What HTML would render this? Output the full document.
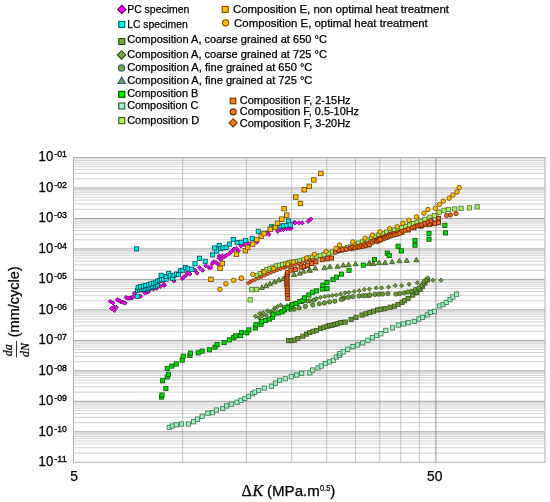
<!DOCTYPE html>
<html><head><meta charset="utf-8"><title>Fatigue crack growth rate</title>
<style>html,body{margin:0;padding:0;background:#fff}body{width:550px;height:502px;overflow:hidden}</style></head>
<body>
<svg width="550" height="502" viewBox="0 0 550 502" style="display:block">
<rect x="0" y="0" width="550" height="502" fill="#ffffff"/>
<g shape-rendering="auto"><line x1="73.50" x2="545.00" y1="178.80" y2="178.80" stroke="#c6c6c6" stroke-width="0.8"/><line x1="73.50" x2="545.00" y1="173.44" y2="173.44" stroke="#c6c6c6" stroke-width="0.8"/><line x1="73.50" x2="545.00" y1="169.63" y2="169.63" stroke="#c6c6c6" stroke-width="0.8"/><line x1="73.50" x2="545.00" y1="166.68" y2="166.68" stroke="#c6c6c6" stroke-width="0.8"/><line x1="73.50" x2="545.00" y1="164.26" y2="164.26" stroke="#c6c6c6" stroke-width="0.8"/><line x1="73.50" x2="545.00" y1="162.22" y2="162.22" stroke="#c6c6c6" stroke-width="0.8"/><line x1="73.50" x2="545.00" y1="160.45" y2="160.45" stroke="#c6c6c6" stroke-width="0.8"/><line x1="73.50" x2="545.00" y1="158.89" y2="158.89" stroke="#c6c6c6" stroke-width="0.8"/><line x1="73.50" x2="545.00" y1="209.28" y2="209.28" stroke="#c6c6c6" stroke-width="0.8"/><line x1="73.50" x2="545.00" y1="203.92" y2="203.92" stroke="#c6c6c6" stroke-width="0.8"/><line x1="73.50" x2="545.00" y1="200.11" y2="200.11" stroke="#c6c6c6" stroke-width="0.8"/><line x1="73.50" x2="545.00" y1="197.16" y2="197.16" stroke="#c6c6c6" stroke-width="0.8"/><line x1="73.50" x2="545.00" y1="194.74" y2="194.74" stroke="#c6c6c6" stroke-width="0.8"/><line x1="73.50" x2="545.00" y1="192.70" y2="192.70" stroke="#c6c6c6" stroke-width="0.8"/><line x1="73.50" x2="545.00" y1="190.93" y2="190.93" stroke="#c6c6c6" stroke-width="0.8"/><line x1="73.50" x2="545.00" y1="189.37" y2="189.37" stroke="#c6c6c6" stroke-width="0.8"/><line x1="73.50" x2="545.00" y1="239.76" y2="239.76" stroke="#c6c6c6" stroke-width="0.8"/><line x1="73.50" x2="545.00" y1="234.40" y2="234.40" stroke="#c6c6c6" stroke-width="0.8"/><line x1="73.50" x2="545.00" y1="230.59" y2="230.59" stroke="#c6c6c6" stroke-width="0.8"/><line x1="73.50" x2="545.00" y1="227.64" y2="227.64" stroke="#c6c6c6" stroke-width="0.8"/><line x1="73.50" x2="545.00" y1="225.22" y2="225.22" stroke="#c6c6c6" stroke-width="0.8"/><line x1="73.50" x2="545.00" y1="223.18" y2="223.18" stroke="#c6c6c6" stroke-width="0.8"/><line x1="73.50" x2="545.00" y1="221.41" y2="221.41" stroke="#c6c6c6" stroke-width="0.8"/><line x1="73.50" x2="545.00" y1="219.85" y2="219.85" stroke="#c6c6c6" stroke-width="0.8"/><line x1="73.50" x2="545.00" y1="270.24" y2="270.24" stroke="#c6c6c6" stroke-width="0.8"/><line x1="73.50" x2="545.00" y1="264.88" y2="264.88" stroke="#c6c6c6" stroke-width="0.8"/><line x1="73.50" x2="545.00" y1="261.07" y2="261.07" stroke="#c6c6c6" stroke-width="0.8"/><line x1="73.50" x2="545.00" y1="258.12" y2="258.12" stroke="#c6c6c6" stroke-width="0.8"/><line x1="73.50" x2="545.00" y1="255.70" y2="255.70" stroke="#c6c6c6" stroke-width="0.8"/><line x1="73.50" x2="545.00" y1="253.66" y2="253.66" stroke="#c6c6c6" stroke-width="0.8"/><line x1="73.50" x2="545.00" y1="251.89" y2="251.89" stroke="#c6c6c6" stroke-width="0.8"/><line x1="73.50" x2="545.00" y1="250.33" y2="250.33" stroke="#c6c6c6" stroke-width="0.8"/><line x1="73.50" x2="545.00" y1="300.72" y2="300.72" stroke="#c6c6c6" stroke-width="0.8"/><line x1="73.50" x2="545.00" y1="295.36" y2="295.36" stroke="#c6c6c6" stroke-width="0.8"/><line x1="73.50" x2="545.00" y1="291.55" y2="291.55" stroke="#c6c6c6" stroke-width="0.8"/><line x1="73.50" x2="545.00" y1="288.60" y2="288.60" stroke="#c6c6c6" stroke-width="0.8"/><line x1="73.50" x2="545.00" y1="286.18" y2="286.18" stroke="#c6c6c6" stroke-width="0.8"/><line x1="73.50" x2="545.00" y1="284.14" y2="284.14" stroke="#c6c6c6" stroke-width="0.8"/><line x1="73.50" x2="545.00" y1="282.37" y2="282.37" stroke="#c6c6c6" stroke-width="0.8"/><line x1="73.50" x2="545.00" y1="280.81" y2="280.81" stroke="#c6c6c6" stroke-width="0.8"/><line x1="73.50" x2="545.00" y1="331.20" y2="331.20" stroke="#c6c6c6" stroke-width="0.8"/><line x1="73.50" x2="545.00" y1="325.84" y2="325.84" stroke="#c6c6c6" stroke-width="0.8"/><line x1="73.50" x2="545.00" y1="322.03" y2="322.03" stroke="#c6c6c6" stroke-width="0.8"/><line x1="73.50" x2="545.00" y1="319.08" y2="319.08" stroke="#c6c6c6" stroke-width="0.8"/><line x1="73.50" x2="545.00" y1="316.66" y2="316.66" stroke="#c6c6c6" stroke-width="0.8"/><line x1="73.50" x2="545.00" y1="314.62" y2="314.62" stroke="#c6c6c6" stroke-width="0.8"/><line x1="73.50" x2="545.00" y1="312.85" y2="312.85" stroke="#c6c6c6" stroke-width="0.8"/><line x1="73.50" x2="545.00" y1="311.29" y2="311.29" stroke="#c6c6c6" stroke-width="0.8"/><line x1="73.50" x2="545.00" y1="361.68" y2="361.68" stroke="#c6c6c6" stroke-width="0.8"/><line x1="73.50" x2="545.00" y1="356.32" y2="356.32" stroke="#c6c6c6" stroke-width="0.8"/><line x1="73.50" x2="545.00" y1="352.51" y2="352.51" stroke="#c6c6c6" stroke-width="0.8"/><line x1="73.50" x2="545.00" y1="349.56" y2="349.56" stroke="#c6c6c6" stroke-width="0.8"/><line x1="73.50" x2="545.00" y1="347.14" y2="347.14" stroke="#c6c6c6" stroke-width="0.8"/><line x1="73.50" x2="545.00" y1="345.10" y2="345.10" stroke="#c6c6c6" stroke-width="0.8"/><line x1="73.50" x2="545.00" y1="343.33" y2="343.33" stroke="#c6c6c6" stroke-width="0.8"/><line x1="73.50" x2="545.00" y1="341.77" y2="341.77" stroke="#c6c6c6" stroke-width="0.8"/><line x1="73.50" x2="545.00" y1="392.16" y2="392.16" stroke="#c6c6c6" stroke-width="0.8"/><line x1="73.50" x2="545.00" y1="386.80" y2="386.80" stroke="#c6c6c6" stroke-width="0.8"/><line x1="73.50" x2="545.00" y1="382.99" y2="382.99" stroke="#c6c6c6" stroke-width="0.8"/><line x1="73.50" x2="545.00" y1="380.04" y2="380.04" stroke="#c6c6c6" stroke-width="0.8"/><line x1="73.50" x2="545.00" y1="377.62" y2="377.62" stroke="#c6c6c6" stroke-width="0.8"/><line x1="73.50" x2="545.00" y1="375.58" y2="375.58" stroke="#c6c6c6" stroke-width="0.8"/><line x1="73.50" x2="545.00" y1="373.81" y2="373.81" stroke="#c6c6c6" stroke-width="0.8"/><line x1="73.50" x2="545.00" y1="372.25" y2="372.25" stroke="#c6c6c6" stroke-width="0.8"/><line x1="73.50" x2="545.00" y1="422.64" y2="422.64" stroke="#c6c6c6" stroke-width="0.8"/><line x1="73.50" x2="545.00" y1="417.28" y2="417.28" stroke="#c6c6c6" stroke-width="0.8"/><line x1="73.50" x2="545.00" y1="413.47" y2="413.47" stroke="#c6c6c6" stroke-width="0.8"/><line x1="73.50" x2="545.00" y1="410.52" y2="410.52" stroke="#c6c6c6" stroke-width="0.8"/><line x1="73.50" x2="545.00" y1="408.10" y2="408.10" stroke="#c6c6c6" stroke-width="0.8"/><line x1="73.50" x2="545.00" y1="406.06" y2="406.06" stroke="#c6c6c6" stroke-width="0.8"/><line x1="73.50" x2="545.00" y1="404.29" y2="404.29" stroke="#c6c6c6" stroke-width="0.8"/><line x1="73.50" x2="545.00" y1="402.73" y2="402.73" stroke="#c6c6c6" stroke-width="0.8"/><line x1="73.50" x2="545.00" y1="453.12" y2="453.12" stroke="#c6c6c6" stroke-width="0.8"/><line x1="73.50" x2="545.00" y1="447.76" y2="447.76" stroke="#c6c6c6" stroke-width="0.8"/><line x1="73.50" x2="545.00" y1="443.95" y2="443.95" stroke="#c6c6c6" stroke-width="0.8"/><line x1="73.50" x2="545.00" y1="441.00" y2="441.00" stroke="#c6c6c6" stroke-width="0.8"/><line x1="73.50" x2="545.00" y1="438.58" y2="438.58" stroke="#c6c6c6" stroke-width="0.8"/><line x1="73.50" x2="545.00" y1="436.54" y2="436.54" stroke="#c6c6c6" stroke-width="0.8"/><line x1="73.50" x2="545.00" y1="434.77" y2="434.77" stroke="#c6c6c6" stroke-width="0.8"/><line x1="73.50" x2="545.00" y1="433.21" y2="433.21" stroke="#c6c6c6" stroke-width="0.8"/><line x1="73.50" x2="545.00" y1="187.98" y2="187.98" stroke="#a2a2a2" stroke-width="1"/><line x1="73.50" x2="545.00" y1="218.46" y2="218.46" stroke="#a2a2a2" stroke-width="1"/><line x1="73.50" x2="545.00" y1="248.94" y2="248.94" stroke="#a2a2a2" stroke-width="1"/><line x1="73.50" x2="545.00" y1="279.42" y2="279.42" stroke="#a2a2a2" stroke-width="1"/><line x1="73.50" x2="545.00" y1="309.90" y2="309.90" stroke="#a2a2a2" stroke-width="1"/><line x1="73.50" x2="545.00" y1="340.38" y2="340.38" stroke="#a2a2a2" stroke-width="1"/><line x1="73.50" x2="545.00" y1="370.86" y2="370.86" stroke="#a2a2a2" stroke-width="1"/><line x1="73.50" x2="545.00" y1="401.34" y2="401.34" stroke="#a2a2a2" stroke-width="1"/><line x1="73.50" x2="545.00" y1="431.82" y2="431.82" stroke="#a2a2a2" stroke-width="1"/><line x1="182.59" x2="182.59" y1="157.50" y2="462.30" stroke="#a0a0a0" stroke-width="0.6"/><line x1="246.41" x2="246.41" y1="157.50" y2="462.30" stroke="#a0a0a0" stroke-width="0.6"/><line x1="291.69" x2="291.69" y1="157.50" y2="462.30" stroke="#a0a0a0" stroke-width="0.6"/><line x1="326.81" x2="326.81" y1="157.50" y2="462.30" stroke="#a0a0a0" stroke-width="0.6"/><line x1="355.51" x2="355.51" y1="157.50" y2="462.30" stroke="#a0a0a0" stroke-width="0.6"/><line x1="379.77" x2="379.77" y1="157.50" y2="462.30" stroke="#a0a0a0" stroke-width="0.6"/><line x1="400.78" x2="400.78" y1="157.50" y2="462.30" stroke="#a0a0a0" stroke-width="0.6"/><line x1="419.32" x2="419.32" y1="157.50" y2="462.30" stroke="#a0a0a0" stroke-width="0.6"/><line x1="435.91" x2="435.91" y1="157.50" y2="462.30" stroke="#7c7c7c" stroke-width="0.8"/><rect x="73.50" y="157.50" width="471.50" height="304.80" fill="none" stroke="#b0b0b0" stroke-width="1"/></g>
<g><rect x="167.1" y="425.2" width="4.3" height="4.3" fill="#9cf0c2" stroke="#3c7050" stroke-width="0.8"/><rect x="170.2" y="423.9" width="4.3" height="4.3" fill="#9cf0c2" stroke="#3c7050" stroke-width="0.8"/><rect x="174.1" y="422.7" width="4.3" height="4.3" fill="#9cf0c2" stroke="#3c7050" stroke-width="0.8"/><rect x="179.3" y="421.9" width="4.3" height="4.3" fill="#9cf0c2" stroke="#3c7050" stroke-width="0.8"/><rect x="186.2" y="421.9" width="4.3" height="4.3" fill="#9cf0c2" stroke="#3c7050" stroke-width="0.8"/><rect x="191.4" y="419.6" width="4.3" height="4.3" fill="#9cf0c2" stroke="#3c7050" stroke-width="0.8"/><rect x="195.3" y="417.0" width="4.3" height="4.3" fill="#9cf0c2" stroke="#3c7050" stroke-width="0.8"/><rect x="200.0" y="414.1" width="4.3" height="4.3" fill="#9cf0c2" stroke="#3c7050" stroke-width="0.8"/><rect x="205.7" y="411.0" width="4.3" height="4.3" fill="#9cf0c2" stroke="#3c7050" stroke-width="0.8"/><rect x="210.3" y="410.5" width="4.3" height="4.3" fill="#9cf0c2" stroke="#3c7050" stroke-width="0.8"/><rect x="214.2" y="407.9" width="4.3" height="4.3" fill="#9cf0c2" stroke="#3c7050" stroke-width="0.8"/><rect x="220.7" y="406.4" width="4.3" height="4.3" fill="#9cf0c2" stroke="#3c7050" stroke-width="0.8"/><rect x="224.5" y="403.8" width="4.3" height="4.3" fill="#9cf0c2" stroke="#3c7050" stroke-width="0.8"/><rect x="229.2" y="402.0" width="4.3" height="4.3" fill="#9cf0c2" stroke="#3c7050" stroke-width="0.8"/><rect x="234.9" y="400.1" width="4.3" height="4.3" fill="#9cf0c2" stroke="#3c7050" stroke-width="0.8"/><rect x="238.8" y="398.1" width="4.3" height="4.3" fill="#9cf0c2" stroke="#3c7050" stroke-width="0.8"/><rect x="242.7" y="396.3" width="4.3" height="4.3" fill="#9cf0c2" stroke="#3c7050" stroke-width="0.8"/><rect x="246.5" y="394.2" width="4.3" height="4.3" fill="#9cf0c2" stroke="#3c7050" stroke-width="0.8"/><rect x="250.4" y="391.6" width="4.3" height="4.3" fill="#9cf0c2" stroke="#3c7050" stroke-width="0.8"/><rect x="252.8" y="390.0" width="4.3" height="4.3" fill="#9cf0c2" stroke="#3c7050" stroke-width="0.8"/><rect x="256.5" y="388.4" width="4.3" height="4.3" fill="#9cf0c2" stroke="#3c7050" stroke-width="0.8"/><rect x="262.2" y="385.9" width="4.3" height="4.3" fill="#9cf0c2" stroke="#3c7050" stroke-width="0.8"/><rect x="269.2" y="384.0" width="4.3" height="4.3" fill="#9cf0c2" stroke="#3c7050" stroke-width="0.8"/><rect x="273.3" y="381.0" width="4.3" height="4.3" fill="#9cf0c2" stroke="#3c7050" stroke-width="0.8"/><rect x="277.4" y="378.2" width="4.3" height="4.3" fill="#9cf0c2" stroke="#3c7050" stroke-width="0.8"/><rect x="283.1" y="376.6" width="4.3" height="4.3" fill="#9cf0c2" stroke="#3c7050" stroke-width="0.8"/><rect x="289.2" y="374.5" width="4.3" height="4.3" fill="#9cf0c2" stroke="#3c7050" stroke-width="0.8"/><rect x="294.6" y="372.9" width="4.3" height="4.3" fill="#9cf0c2" stroke="#3c7050" stroke-width="0.8"/><rect x="299.5" y="371.2" width="4.3" height="4.3" fill="#9cf0c2" stroke="#3c7050" stroke-width="0.8"/><rect x="307.7" y="370.7" width="4.3" height="4.3" fill="#9cf0c2" stroke="#3c7050" stroke-width="0.8"/><rect x="310.5" y="367.9" width="4.3" height="4.3" fill="#9cf0c2" stroke="#3c7050" stroke-width="0.8"/><rect x="315.9" y="365.8" width="4.3" height="4.3" fill="#9cf0c2" stroke="#3c7050" stroke-width="0.8"/><rect x="319.1" y="363.9" width="4.3" height="4.3" fill="#9cf0c2" stroke="#3c7050" stroke-width="0.8"/><rect x="323.2" y="361.4" width="4.3" height="4.3" fill="#9cf0c2" stroke="#3c7050" stroke-width="0.8"/><rect x="327.3" y="359.8" width="4.3" height="4.3" fill="#9cf0c2" stroke="#3c7050" stroke-width="0.8"/><rect x="331.1" y="358.1" width="4.3" height="4.3" fill="#9cf0c2" stroke="#3c7050" stroke-width="0.8"/><rect x="334.2" y="354.9" width="4.3" height="4.3" fill="#9cf0c2" stroke="#3c7050" stroke-width="0.8"/><rect x="337.1" y="353.2" width="4.3" height="4.3" fill="#9cf0c2" stroke="#3c7050" stroke-width="0.8"/><rect x="337.9" y="351.5" width="4.3" height="4.3" fill="#9cf0c2" stroke="#3c7050" stroke-width="0.8"/><rect x="341.0" y="349.7" width="4.3" height="4.3" fill="#9cf0c2" stroke="#3c7050" stroke-width="0.8"/><rect x="345.6" y="347.1" width="4.3" height="4.3" fill="#9cf0c2" stroke="#3c7050" stroke-width="0.8"/><rect x="350.8" y="344.5" width="4.3" height="4.3" fill="#9cf0c2" stroke="#3c7050" stroke-width="0.8"/><rect x="355.4" y="342.7" width="4.3" height="4.3" fill="#9cf0c2" stroke="#3c7050" stroke-width="0.8"/><rect x="360.6" y="340.7" width="4.3" height="4.3" fill="#9cf0c2" stroke="#3c7050" stroke-width="0.8"/><rect x="365.8" y="338.1" width="4.3" height="4.3" fill="#9cf0c2" stroke="#3c7050" stroke-width="0.8"/><rect x="370.2" y="335.5" width="4.3" height="4.3" fill="#9cf0c2" stroke="#3c7050" stroke-width="0.8"/><rect x="374.6" y="333.4" width="4.3" height="4.3" fill="#9cf0c2" stroke="#3c7050" stroke-width="0.8"/><rect x="378.7" y="331.6" width="4.3" height="4.3" fill="#9cf0c2" stroke="#3c7050" stroke-width="0.8"/><rect x="383.7" y="328.2" width="4.3" height="4.3" fill="#9cf0c2" stroke="#3c7050" stroke-width="0.8"/><rect x="390.4" y="325.7" width="4.3" height="4.3" fill="#9cf0c2" stroke="#3c7050" stroke-width="0.8"/><rect x="396.2" y="322.9" width="4.3" height="4.3" fill="#9cf0c2" stroke="#3c7050" stroke-width="0.8"/><rect x="401.1" y="321.8" width="4.3" height="4.3" fill="#9cf0c2" stroke="#3c7050" stroke-width="0.8"/><rect x="406.0" y="320.5" width="4.3" height="4.3" fill="#9cf0c2" stroke="#3c7050" stroke-width="0.8"/><rect x="412.2" y="319.3" width="4.3" height="4.3" fill="#9cf0c2" stroke="#3c7050" stroke-width="0.8"/><rect x="416.8" y="316.9" width="4.3" height="4.3" fill="#9cf0c2" stroke="#3c7050" stroke-width="0.8"/><rect x="420.4" y="315.2" width="4.3" height="4.3" fill="#9cf0c2" stroke="#3c7050" stroke-width="0.8"/><rect x="425.3" y="312.8" width="4.3" height="4.3" fill="#9cf0c2" stroke="#3c7050" stroke-width="0.8"/><rect x="428.2" y="310.3" width="4.3" height="4.3" fill="#9cf0c2" stroke="#3c7050" stroke-width="0.8"/><rect x="432.3" y="309.2" width="4.3" height="4.3" fill="#9cf0c2" stroke="#3c7050" stroke-width="0.8"/><rect x="437.6" y="303.8" width="4.3" height="4.3" fill="#9cf0c2" stroke="#3c7050" stroke-width="0.8"/><rect x="440.9" y="302.5" width="4.3" height="4.3" fill="#9cf0c2" stroke="#3c7050" stroke-width="0.8"/><rect x="444.1" y="300.2" width="4.3" height="4.3" fill="#9cf0c2" stroke="#3c7050" stroke-width="0.8"/><rect x="447.9" y="297.5" width="4.3" height="4.3" fill="#9cf0c2" stroke="#3c7050" stroke-width="0.8"/><rect x="450.7" y="294.8" width="4.3" height="4.3" fill="#9cf0c2" stroke="#3c7050" stroke-width="0.8"/><rect x="454.4" y="292.0" width="4.3" height="4.3" fill="#9cf0c2" stroke="#3c7050" stroke-width="0.8"/></g>
<g><rect x="286.4" y="338.5" width="4.2" height="4.2" fill="#6a9a38" stroke="#34501c" stroke-width="0.8"/><rect x="289.2" y="338.5" width="4.2" height="4.2" fill="#6a9a38" stroke="#34501c" stroke-width="0.8"/><rect x="292.2" y="338.0" width="4.2" height="4.2" fill="#6a9a38" stroke="#34501c" stroke-width="0.8"/><rect x="295.8" y="336.4" width="4.2" height="4.2" fill="#6a9a38" stroke="#34501c" stroke-width="0.8"/><rect x="300.7" y="334.1" width="4.2" height="4.2" fill="#6a9a38" stroke="#34501c" stroke-width="0.8"/><rect x="304.4" y="332.0" width="4.2" height="4.2" fill="#6a9a38" stroke="#34501c" stroke-width="0.8"/><rect x="307.7" y="330.4" width="4.2" height="4.2" fill="#6a9a38" stroke="#34501c" stroke-width="0.8"/><rect x="311.0" y="329.2" width="4.2" height="4.2" fill="#6a9a38" stroke="#34501c" stroke-width="0.8"/><rect x="314.3" y="328.4" width="4.2" height="4.2" fill="#6a9a38" stroke="#34501c" stroke-width="0.8"/><rect x="318.5" y="326.2" width="4.2" height="4.2" fill="#6a9a38" stroke="#34501c" stroke-width="0.8"/><rect x="321.6" y="325.2" width="4.2" height="4.2" fill="#6a9a38" stroke="#34501c" stroke-width="0.8"/><rect x="324.9" y="324.2" width="4.2" height="4.2" fill="#6a9a38" stroke="#34501c" stroke-width="0.8"/><rect x="327.5" y="323.6" width="4.2" height="4.2" fill="#6a9a38" stroke="#34501c" stroke-width="0.8"/><rect x="330.1" y="323.1" width="4.2" height="4.2" fill="#6a9a38" stroke="#34501c" stroke-width="0.8"/><rect x="332.7" y="322.4" width="4.2" height="4.2" fill="#6a9a38" stroke="#34501c" stroke-width="0.8"/><rect x="335.3" y="321.6" width="4.2" height="4.2" fill="#6a9a38" stroke="#34501c" stroke-width="0.8"/><rect x="338.7" y="320.5" width="4.2" height="4.2" fill="#6a9a38" stroke="#34501c" stroke-width="0.8"/><rect x="343.1" y="320.0" width="4.2" height="4.2" fill="#6a9a38" stroke="#34501c" stroke-width="0.8"/><rect x="349.0" y="317.4" width="4.2" height="4.2" fill="#6a9a38" stroke="#34501c" stroke-width="0.8"/><rect x="353.9" y="315.3" width="4.2" height="4.2" fill="#6a9a38" stroke="#34501c" stroke-width="0.8"/><rect x="359.9" y="313.0" width="4.2" height="4.2" fill="#6a9a38" stroke="#34501c" stroke-width="0.8"/><rect x="363.8" y="311.7" width="4.2" height="4.2" fill="#6a9a38" stroke="#34501c" stroke-width="0.8"/><rect x="367.7" y="310.4" width="4.2" height="4.2" fill="#6a9a38" stroke="#34501c" stroke-width="0.8"/><rect x="371.5" y="309.1" width="4.2" height="4.2" fill="#6a9a38" stroke="#34501c" stroke-width="0.8"/><rect x="375.4" y="307.8" width="4.2" height="4.2" fill="#6a9a38" stroke="#34501c" stroke-width="0.8"/><rect x="378.7" y="307.1" width="4.2" height="4.2" fill="#6a9a38" stroke="#34501c" stroke-width="0.8"/><rect x="382.8" y="306.6" width="4.2" height="4.2" fill="#6a9a38" stroke="#34501c" stroke-width="0.8"/><rect x="388.0" y="305.1" width="4.2" height="4.2" fill="#6a9a38" stroke="#34501c" stroke-width="0.8"/><rect x="392.3" y="304.1" width="4.2" height="4.2" fill="#6a9a38" stroke="#34501c" stroke-width="0.8"/><rect x="395.9" y="302.5" width="4.2" height="4.2" fill="#6a9a38" stroke="#34501c" stroke-width="0.8"/><rect x="400.0" y="300.2" width="4.2" height="4.2" fill="#6a9a38" stroke="#34501c" stroke-width="0.8"/><rect x="402.4" y="298.6" width="4.2" height="4.2" fill="#6a9a38" stroke="#34501c" stroke-width="0.8"/><rect x="406.0" y="296.4" width="4.2" height="4.2" fill="#6a9a38" stroke="#34501c" stroke-width="0.8"/><rect x="410.6" y="292.8" width="4.2" height="4.2" fill="#6a9a38" stroke="#34501c" stroke-width="0.8"/><rect x="414.7" y="290.4" width="4.2" height="4.2" fill="#6a9a38" stroke="#34501c" stroke-width="0.8"/><rect x="418.0" y="287.4" width="4.2" height="4.2" fill="#6a9a38" stroke="#34501c" stroke-width="0.8"/><rect x="420.4" y="284.2" width="4.2" height="4.2" fill="#6a9a38" stroke="#34501c" stroke-width="0.8"/><rect x="422.9" y="280.9" width="4.2" height="4.2" fill="#6a9a38" stroke="#34501c" stroke-width="0.8"/><rect x="425.4" y="277.6" width="4.2" height="4.2" fill="#6a9a38" stroke="#34501c" stroke-width="0.8"/></g>
<g><circle cx="290.3" cy="309.5" r="2.15" fill="#6a9a38" stroke="#34501c" stroke-width="0.8"/><circle cx="294.1" cy="309.2" r="2.15" fill="#6a9a38" stroke="#34501c" stroke-width="0.8"/><circle cx="299.2" cy="307.9" r="2.15" fill="#6a9a38" stroke="#34501c" stroke-width="0.8"/><circle cx="305.3" cy="306.4" r="2.15" fill="#6a9a38" stroke="#34501c" stroke-width="0.8"/><circle cx="309.5" cy="300.8" r="2.15" fill="#6a9a38" stroke="#34501c" stroke-width="0.8"/><circle cx="314.0" cy="300.1" r="2.15" fill="#6a9a38" stroke="#34501c" stroke-width="0.8"/><circle cx="343.9" cy="297.9" r="2.15" fill="#6a9a38" stroke="#34501c" stroke-width="0.8"/><circle cx="348.4" cy="297.3" r="2.15" fill="#6a9a38" stroke="#34501c" stroke-width="0.8"/><circle cx="352.8" cy="296.6" r="2.15" fill="#6a9a38" stroke="#34501c" stroke-width="0.8"/><circle cx="359.2" cy="296.0" r="2.15" fill="#6a9a38" stroke="#34501c" stroke-width="0.8"/><circle cx="363.0" cy="295.7" r="2.15" fill="#6a9a38" stroke="#34501c" stroke-width="0.8"/><circle cx="366.2" cy="295.6" r="2.15" fill="#6a9a38" stroke="#34501c" stroke-width="0.8"/><circle cx="369.4" cy="295.4" r="2.15" fill="#6a9a38" stroke="#34501c" stroke-width="0.8"/><circle cx="342.6" cy="298.8" r="2.15" fill="#6a9a38" stroke="#34501c" stroke-width="0.8"/><circle cx="369.8" cy="294.9" r="2.15" fill="#6a9a38" stroke="#34501c" stroke-width="0.8"/><circle cx="374.9" cy="294.4" r="2.15" fill="#6a9a38" stroke="#34501c" stroke-width="0.8"/><circle cx="378.8" cy="294.2" r="2.15" fill="#6a9a38" stroke="#34501c" stroke-width="0.8"/><circle cx="312.8" cy="305.0" r="2.15" fill="#6a9a38" stroke="#34501c" stroke-width="0.8"/><circle cx="319.3" cy="303.8" r="2.15" fill="#6a9a38" stroke="#34501c" stroke-width="0.8"/><circle cx="324.5" cy="303.0" r="2.15" fill="#6a9a38" stroke="#34501c" stroke-width="0.8"/><circle cx="329.6" cy="301.9" r="2.15" fill="#6a9a38" stroke="#34501c" stroke-width="0.8"/><circle cx="334.8" cy="301.2" r="2.15" fill="#6a9a38" stroke="#34501c" stroke-width="0.8"/><circle cx="341.3" cy="299.4" r="2.15" fill="#6a9a38" stroke="#34501c" stroke-width="0.8"/><circle cx="382.5" cy="294.1" r="2.15" fill="#6a9a38" stroke="#34501c" stroke-width="0.8"/><circle cx="387.9" cy="293.6" r="2.15" fill="#6a9a38" stroke="#34501c" stroke-width="0.8"/><circle cx="395.9" cy="294.1" r="2.15" fill="#6a9a38" stroke="#34501c" stroke-width="0.8"/><circle cx="399.6" cy="293.6" r="2.15" fill="#6a9a38" stroke="#34501c" stroke-width="0.8"/><circle cx="404.2" cy="292.8" r="2.15" fill="#6a9a38" stroke="#34501c" stroke-width="0.8"/><circle cx="407.8" cy="292.0" r="2.15" fill="#6a9a38" stroke="#34501c" stroke-width="0.8"/><circle cx="411.4" cy="291.5" r="2.15" fill="#6a9a38" stroke="#34501c" stroke-width="0.8"/><circle cx="415.2" cy="289.5" r="2.15" fill="#6a9a38" stroke="#34501c" stroke-width="0.8"/><circle cx="418.9" cy="287.9" r="2.15" fill="#6a9a38" stroke="#34501c" stroke-width="0.8"/><circle cx="421.7" cy="285.5" r="2.15" fill="#6a9a38" stroke="#34501c" stroke-width="0.8"/><circle cx="423.9" cy="283.0" r="2.15" fill="#6a9a38" stroke="#34501c" stroke-width="0.8"/><circle cx="425.8" cy="280.5" r="2.15" fill="#6a9a38" stroke="#34501c" stroke-width="0.8"/><circle cx="412.7" cy="295.3" r="2.15" fill="#6a9a38" stroke="#34501c" stroke-width="0.8"/><circle cx="416.8" cy="292.8" r="2.15" fill="#6a9a38" stroke="#34501c" stroke-width="0.8"/></g>
<g><path d="M253.4 316.3L255.5 314.2L257.6 316.3L255.5 318.4Z" fill="#6a9a38" stroke="#34501c" stroke-width="0.8"/><path d="M257.0 317.8L259.1 315.7L261.2 317.8L259.1 319.9Z" fill="#6a9a38" stroke="#34501c" stroke-width="0.8"/><path d="M257.6 313.4L259.7 311.3L261.8 313.4L259.7 315.5Z" fill="#6a9a38" stroke="#34501c" stroke-width="0.8"/><path d="M260.2 315.9L262.3 313.8L264.4 315.9L262.3 318.0Z" fill="#6a9a38" stroke="#34501c" stroke-width="0.8"/><path d="M260.8 312.7L262.9 310.6L265.0 312.7L262.9 314.8Z" fill="#6a9a38" stroke="#34501c" stroke-width="0.8"/><path d="M264.0 315.3L266.1 313.2L268.2 315.3L266.1 317.4Z" fill="#6a9a38" stroke="#34501c" stroke-width="0.8"/><path d="M265.3 310.8L267.4 308.7L269.5 310.8L267.4 312.9Z" fill="#6a9a38" stroke="#34501c" stroke-width="0.8"/><path d="M267.8 312.1L269.9 310.0L272.0 312.1L269.9 314.2Z" fill="#6a9a38" stroke="#34501c" stroke-width="0.8"/><path d="M271.0 310.2L273.1 308.1L275.2 310.2L273.1 312.3Z" fill="#6a9a38" stroke="#34501c" stroke-width="0.8"/><path d="M272.9 307.9L275.0 305.8L277.1 307.9L275.0 310.0Z" fill="#6a9a38" stroke="#34501c" stroke-width="0.8"/><path d="M275.4 306.6L277.5 304.5L279.6 306.6L277.5 308.7Z" fill="#6a9a38" stroke="#34501c" stroke-width="0.8"/><path d="M278.6 305.1L280.7 303.0L282.8 305.1L280.7 307.2Z" fill="#6a9a38" stroke="#34501c" stroke-width="0.8"/><path d="M281.8 307.0L283.9 304.9L286.0 307.0L283.9 309.1Z" fill="#6a9a38" stroke="#34501c" stroke-width="0.8"/><path d="M285.0 305.7L287.1 303.6L289.2 305.7L287.1 307.8Z" fill="#6a9a38" stroke="#34501c" stroke-width="0.8"/><path d="M288.8 304.8L290.9 302.7L293.0 304.8L290.9 306.9Z" fill="#6a9a38" stroke="#34501c" stroke-width="0.8"/><path d="M292.6 303.8L294.7 301.7L296.8 303.8L294.7 305.9Z" fill="#6a9a38" stroke="#34501c" stroke-width="0.8"/><path d="M296.4 302.8L298.5 300.7L300.6 302.8L298.5 304.9Z" fill="#6a9a38" stroke="#34501c" stroke-width="0.8"/><path d="M300.9 302.0L303.0 299.9L305.1 302.0L303.0 304.1Z" fill="#6a9a38" stroke="#34501c" stroke-width="0.8"/><path d="M305.4 301.3L307.5 299.2L309.6 301.3L307.5 303.4Z" fill="#6a9a38" stroke="#34501c" stroke-width="0.8"/><path d="M314.4 298.5L316.5 296.4L318.6 298.5L316.5 300.6Z" fill="#6a9a38" stroke="#34501c" stroke-width="0.8"/><path d="M318.3 297.5L320.4 295.4L322.5 297.5L320.4 299.6Z" fill="#6a9a38" stroke="#34501c" stroke-width="0.8"/><path d="M322.7 296.6L324.8 294.5L326.9 296.6L324.8 298.7Z" fill="#6a9a38" stroke="#34501c" stroke-width="0.8"/><path d="M326.5 296.0L328.6 293.9L330.7 296.0L328.6 298.1Z" fill="#6a9a38" stroke="#34501c" stroke-width="0.8"/><path d="M330.4 295.4L332.5 293.3L334.6 295.4L332.5 297.5Z" fill="#6a9a38" stroke="#34501c" stroke-width="0.8"/><path d="M334.2 295.0L336.3 292.9L338.4 295.0L336.3 297.1Z" fill="#6a9a38" stroke="#34501c" stroke-width="0.8"/><path d="M338.6 294.1L340.7 292.0L342.8 294.1L340.7 296.2Z" fill="#6a9a38" stroke="#34501c" stroke-width="0.8"/><path d="M343.1 292.8L345.2 290.7L347.3 292.8L345.2 294.9Z" fill="#6a9a38" stroke="#34501c" stroke-width="0.8"/><path d="M346.9 292.4L349.0 290.3L351.1 292.4L349.0 294.5Z" fill="#6a9a38" stroke="#34501c" stroke-width="0.8"/><path d="M352.0 291.5L354.1 289.4L356.2 291.5L354.1 293.6Z" fill="#6a9a38" stroke="#34501c" stroke-width="0.8"/><path d="M357.1 290.7L359.2 288.6L361.3 290.7L359.2 292.8Z" fill="#6a9a38" stroke="#34501c" stroke-width="0.8"/><path d="M362.2 289.4L364.3 287.3L366.4 289.4L364.3 291.5Z" fill="#6a9a38" stroke="#34501c" stroke-width="0.8"/><path d="M367.3 289.0L369.4 286.9L371.5 289.0L369.4 291.1Z" fill="#6a9a38" stroke="#34501c" stroke-width="0.8"/><path d="M374.1 287.9L376.2 285.8L378.3 287.9L376.2 290.0Z" fill="#6a9a38" stroke="#34501c" stroke-width="0.8"/><path d="M379.5 287.9L381.6 285.8L383.7 287.9L381.6 290.0Z" fill="#6a9a38" stroke="#34501c" stroke-width="0.8"/><path d="M386.4 287.1L388.5 285.0L390.6 287.1L388.5 289.2Z" fill="#6a9a38" stroke="#34501c" stroke-width="0.8"/><path d="M393.1 285.5L395.2 283.4L397.3 285.5L395.2 287.6Z" fill="#6a9a38" stroke="#34501c" stroke-width="0.8"/><path d="M399.5 285.5L401.6 283.4L403.7 285.5L401.6 287.6Z" fill="#6a9a38" stroke="#34501c" stroke-width="0.8"/><path d="M407.0 284.3L409.1 282.2L411.2 284.3L409.1 286.4Z" fill="#6a9a38" stroke="#34501c" stroke-width="0.8"/><path d="M415.2 282.7L417.3 280.6L419.4 282.7L417.3 284.8Z" fill="#6a9a38" stroke="#34501c" stroke-width="0.8"/><path d="M421.8 281.4L423.9 279.3L426.0 281.4L423.9 283.5Z" fill="#6a9a38" stroke="#34501c" stroke-width="0.8"/><path d="M425.8 277.8L427.9 275.7L430.0 277.8L427.9 279.9Z" fill="#6a9a38" stroke="#34501c" stroke-width="0.8"/><path d="M430.8 280.2L432.9 278.1L435.0 280.2L432.9 282.3Z" fill="#6a9a38" stroke="#34501c" stroke-width="0.8"/><path d="M438.9 280.2L441.0 278.1L443.1 280.2L441.0 282.3Z" fill="#6a9a38" stroke="#34501c" stroke-width="0.8"/></g>
<g><rect x="159.4" y="395.0" width="4.2" height="4.2" fill="#00dc00" stroke="#005800" stroke-width="0.8"/><rect x="159.9" y="392.9" width="4.2" height="4.2" fill="#00dc00" stroke="#005800" stroke-width="0.8"/><rect x="163.8" y="386.5" width="4.2" height="4.2" fill="#00dc00" stroke="#005800" stroke-width="0.8"/><rect x="160.4" y="378.7" width="4.2" height="4.2" fill="#00dc00" stroke="#005800" stroke-width="0.8"/><rect x="165.1" y="374.8" width="4.2" height="4.2" fill="#00dc00" stroke="#005800" stroke-width="0.8"/><rect x="166.4" y="372.2" width="4.2" height="4.2" fill="#00dc00" stroke="#005800" stroke-width="0.8"/><rect x="165.1" y="366.3" width="4.2" height="4.2" fill="#00dc00" stroke="#005800" stroke-width="0.8"/><rect x="169.7" y="364.0" width="4.2" height="4.2" fill="#00dc00" stroke="#005800" stroke-width="0.8"/><rect x="174.1" y="361.9" width="4.2" height="4.2" fill="#00dc00" stroke="#005800" stroke-width="0.8"/><rect x="180.1" y="358.0" width="4.2" height="4.2" fill="#00dc00" stroke="#005800" stroke-width="0.8"/><rect x="181.1" y="354.1" width="4.2" height="4.2" fill="#00dc00" stroke="#005800" stroke-width="0.8"/><rect x="187.8" y="353.4" width="4.2" height="4.2" fill="#00dc00" stroke="#005800" stroke-width="0.8"/><rect x="188.4" y="351.0" width="4.2" height="4.2" fill="#00dc00" stroke="#005800" stroke-width="0.8"/><rect x="196.1" y="350.8" width="4.2" height="4.2" fill="#00dc00" stroke="#005800" stroke-width="0.8"/><rect x="200.0" y="349.0" width="4.2" height="4.2" fill="#00dc00" stroke="#005800" stroke-width="0.8"/><rect x="207.3" y="347.7" width="4.2" height="4.2" fill="#00dc00" stroke="#005800" stroke-width="0.8"/><rect x="212.9" y="345.1" width="4.2" height="4.2" fill="#00dc00" stroke="#005800" stroke-width="0.8"/><rect x="215.0" y="342.5" width="4.2" height="4.2" fill="#00dc00" stroke="#005800" stroke-width="0.8"/><rect x="222.0" y="340.4" width="4.2" height="4.2" fill="#00dc00" stroke="#005800" stroke-width="0.8"/><rect x="227.2" y="337.8" width="4.2" height="4.2" fill="#00dc00" stroke="#005800" stroke-width="0.8"/><rect x="231.6" y="335.5" width="4.2" height="4.2" fill="#00dc00" stroke="#005800" stroke-width="0.8"/><rect x="233.4" y="333.8" width="4.2" height="4.2" fill="#00dc00" stroke="#005800" stroke-width="0.8"/><rect x="238.5" y="333.5" width="4.2" height="4.2" fill="#00dc00" stroke="#005800" stroke-width="0.8"/><rect x="239.4" y="330.4" width="4.2" height="4.2" fill="#00dc00" stroke="#005800" stroke-width="0.8"/><rect x="244.9" y="330.7" width="4.2" height="4.2" fill="#00dc00" stroke="#005800" stroke-width="0.8"/><rect x="246.8" y="327.8" width="4.2" height="4.2" fill="#00dc00" stroke="#005800" stroke-width="0.8"/><rect x="253.2" y="325.9" width="4.2" height="4.2" fill="#00dc00" stroke="#005800" stroke-width="0.8"/><rect x="253.8" y="322.7" width="4.2" height="4.2" fill="#00dc00" stroke="#005800" stroke-width="0.8"/><rect x="258.9" y="322.1" width="4.2" height="4.2" fill="#00dc00" stroke="#005800" stroke-width="0.8"/><rect x="259.3" y="319.5" width="4.2" height="4.2" fill="#00dc00" stroke="#005800" stroke-width="0.8"/><rect x="263.4" y="318.3" width="4.2" height="4.2" fill="#00dc00" stroke="#005800" stroke-width="0.8"/><rect x="267.2" y="317.0" width="4.2" height="4.2" fill="#00dc00" stroke="#005800" stroke-width="0.8"/><rect x="270.4" y="315.1" width="4.2" height="4.2" fill="#00dc00" stroke="#005800" stroke-width="0.8"/><rect x="271.0" y="312.2" width="4.2" height="4.2" fill="#00dc00" stroke="#005800" stroke-width="0.8"/><rect x="276.1" y="310.9" width="4.2" height="4.2" fill="#00dc00" stroke="#005800" stroke-width="0.8"/><rect x="279.9" y="309.6" width="4.2" height="4.2" fill="#00dc00" stroke="#005800" stroke-width="0.8"/><rect x="282.4" y="307.8" width="4.2" height="4.2" fill="#00dc00" stroke="#005800" stroke-width="0.8"/><rect x="285.6" y="305.8" width="4.2" height="4.2" fill="#00dc00" stroke="#005800" stroke-width="0.8"/><rect x="289.4" y="304.0" width="4.2" height="4.2" fill="#00dc00" stroke="#005800" stroke-width="0.8"/><rect x="290.1" y="302.4" width="4.2" height="4.2" fill="#00dc00" stroke="#005800" stroke-width="0.8"/><rect x="293.9" y="301.5" width="4.2" height="4.2" fill="#00dc00" stroke="#005800" stroke-width="0.8"/><rect x="297.7" y="299.4" width="4.2" height="4.2" fill="#00dc00" stroke="#005800" stroke-width="0.8"/><rect x="300.9" y="298.5" width="4.2" height="4.2" fill="#00dc00" stroke="#005800" stroke-width="0.8"/><rect x="302.4" y="295.8" width="4.2" height="4.2" fill="#00dc00" stroke="#005800" stroke-width="0.8"/><rect x="306.8" y="292.9" width="4.2" height="4.2" fill="#00dc00" stroke="#005800" stroke-width="0.8"/><rect x="310.6" y="290.1" width="4.2" height="4.2" fill="#00dc00" stroke="#005800" stroke-width="0.8"/><rect x="314.4" y="288.8" width="4.2" height="4.2" fill="#00dc00" stroke="#005800" stroke-width="0.8"/><rect x="320.2" y="286.9" width="4.2" height="4.2" fill="#00dc00" stroke="#005800" stroke-width="0.8"/><rect x="324.9" y="286.5" width="4.2" height="4.2" fill="#00dc00" stroke="#005800" stroke-width="0.8"/><rect x="320.8" y="283.1" width="4.2" height="4.2" fill="#00dc00" stroke="#005800" stroke-width="0.8"/><rect x="324.9" y="280.5" width="4.2" height="4.2" fill="#00dc00" stroke="#005800" stroke-width="0.8"/><rect x="331.0" y="277.4" width="4.2" height="4.2" fill="#00dc00" stroke="#005800" stroke-width="0.8"/><rect x="334.2" y="275.1" width="4.2" height="4.2" fill="#00dc00" stroke="#005800" stroke-width="0.8"/><rect x="339.3" y="272.0" width="4.2" height="4.2" fill="#00dc00" stroke="#005800" stroke-width="0.8"/><rect x="346.9" y="268.2" width="4.2" height="4.2" fill="#00dc00" stroke="#005800" stroke-width="0.8"/><rect x="361.2" y="263.0" width="4.2" height="4.2" fill="#00dc00" stroke="#005800" stroke-width="0.8"/><rect x="372.4" y="257.4" width="4.2" height="4.2" fill="#00dc00" stroke="#005800" stroke-width="0.8"/><rect x="385.2" y="251.1" width="4.2" height="4.2" fill="#00dc00" stroke="#005800" stroke-width="0.8"/><rect x="387.1" y="253.4" width="4.2" height="4.2" fill="#00dc00" stroke="#005800" stroke-width="0.8"/><rect x="396.0" y="244.1" width="4.2" height="4.2" fill="#00dc00" stroke="#005800" stroke-width="0.8"/><rect x="399.2" y="248.8" width="4.2" height="4.2" fill="#00dc00" stroke="#005800" stroke-width="0.8"/><rect x="412.9" y="238.4" width="4.2" height="4.2" fill="#00dc00" stroke="#005800" stroke-width="0.8"/><rect x="412.9" y="243.1" width="4.2" height="4.2" fill="#00dc00" stroke="#005800" stroke-width="0.8"/><rect x="426.9" y="231.4" width="4.2" height="4.2" fill="#00dc00" stroke="#005800" stroke-width="0.8"/><rect x="426.9" y="237.1" width="4.2" height="4.2" fill="#00dc00" stroke="#005800" stroke-width="0.8"/><rect x="442.8" y="223.2" width="4.2" height="4.2" fill="#00dc00" stroke="#005800" stroke-width="0.8"/><rect x="443.4" y="230.8" width="4.2" height="4.2" fill="#00dc00" stroke="#005800" stroke-width="0.8"/></g>
<g><path d="M259.3 289.4L261.9 284.9L264.5 289.4Z" fill="#6a9a38" stroke="#34501c" stroke-width="0.8"/><path d="M263.5 287.6L266.1 283.1L268.7 287.6Z" fill="#6a9a38" stroke="#34501c" stroke-width="0.8"/><path d="M267.3 285.6L269.9 281.1L272.5 285.6Z" fill="#6a9a38" stroke="#34501c" stroke-width="0.8"/><path d="M271.8 283.8L274.4 279.3L277.0 283.8Z" fill="#6a9a38" stroke="#34501c" stroke-width="0.8"/><path d="M276.2 281.8L278.8 277.3L281.4 281.8Z" fill="#6a9a38" stroke="#34501c" stroke-width="0.8"/><path d="M280.7 280.5L283.3 276.0L285.9 280.5Z" fill="#6a9a38" stroke="#34501c" stroke-width="0.8"/><path d="M291.5 276.4L294.1 271.9L296.7 276.4Z" fill="#6a9a38" stroke="#34501c" stroke-width="0.8"/><path d="M297.0 275.2L299.6 270.7L302.2 275.2Z" fill="#6a9a38" stroke="#34501c" stroke-width="0.8"/><path d="M301.0 273.2L303.6 268.8L306.2 273.2Z" fill="#6a9a38" stroke="#34501c" stroke-width="0.8"/><path d="M306.8 272.0L309.4 267.5L312.0 272.0Z" fill="#6a9a38" stroke="#34501c" stroke-width="0.8"/><path d="M307.3 272.2L309.9 267.7L312.5 272.2Z" fill="#6a9a38" stroke="#34501c" stroke-width="0.8"/><path d="M312.7 270.0L315.3 265.5L317.9 270.0Z" fill="#6a9a38" stroke="#34501c" stroke-width="0.8"/><path d="M321.8 269.6L324.4 265.1L327.0 269.6Z" fill="#6a9a38" stroke="#34501c" stroke-width="0.8"/><path d="M327.3 268.6L329.9 264.1L332.5 268.6Z" fill="#6a9a38" stroke="#34501c" stroke-width="0.8"/><path d="M334.9 268.3L337.5 263.8L340.2 268.3Z" fill="#6a9a38" stroke="#34501c" stroke-width="0.8"/><path d="M340.7 267.1L343.3 262.6L345.9 267.1Z" fill="#6a9a38" stroke="#34501c" stroke-width="0.8"/><path d="M346.0 266.4L348.6 261.9L351.2 266.4Z" fill="#6a9a38" stroke="#34501c" stroke-width="0.8"/><path d="M353.0 265.8L355.6 261.3L358.2 265.8Z" fill="#6a9a38" stroke="#34501c" stroke-width="0.8"/><path d="M366.8 264.9L369.4 260.4L372.0 264.9Z" fill="#6a9a38" stroke="#34501c" stroke-width="0.8"/><path d="M366.8 265.4L369.5 260.9L372.1 265.4Z" fill="#6a9a38" stroke="#34501c" stroke-width="0.8"/><path d="M370.7 265.6L373.3 261.1L375.9 265.6Z" fill="#6a9a38" stroke="#34501c" stroke-width="0.8"/><path d="M376.4 264.6L379.0 260.1L381.6 264.6Z" fill="#6a9a38" stroke="#34501c" stroke-width="0.8"/><path d="M382.5 264.6L385.1 260.1L387.7 264.6Z" fill="#6a9a38" stroke="#34501c" stroke-width="0.8"/><path d="M389.5 263.7L392.1 259.2L394.7 263.7Z" fill="#6a9a38" stroke="#34501c" stroke-width="0.8"/><path d="M396.8 262.8L399.4 258.3L402.0 262.8Z" fill="#6a9a38" stroke="#34501c" stroke-width="0.8"/><path d="M404.1 262.4L406.7 257.9L409.4 262.4Z" fill="#6a9a38" stroke="#34501c" stroke-width="0.8"/><path d="M413.7 261.8L416.3 257.3L418.9 261.8Z" fill="#6a9a38" stroke="#34501c" stroke-width="0.8"/></g>
<g><path d="M108.1 301.4L110.2 299.3L112.3 301.4L110.2 303.5Z" fill="#ff00ff" stroke="#600060" stroke-width="0.8"/><path d="M111.0 303.0L113.1 300.9L115.2 303.0L113.1 305.1Z" fill="#ff00ff" stroke="#600060" stroke-width="0.8"/><path d="M109.4 308.4L111.5 306.3L113.6 308.4L111.5 310.5Z" fill="#ff00ff" stroke="#600060" stroke-width="0.8"/><path d="M111.9 307.1L114.0 305.0L116.1 307.1L114.0 309.2Z" fill="#ff00ff" stroke="#600060" stroke-width="0.8"/><path d="M114.2 307.3L116.3 305.2L118.4 307.3L116.3 309.4Z" fill="#ff00ff" stroke="#600060" stroke-width="0.8"/><path d="M112.3 310.3L114.4 308.2L116.5 310.3L114.4 312.4Z" fill="#ff00ff" stroke="#600060" stroke-width="0.8"/><path d="M115.1 299.7L117.2 297.6L119.3 299.7L117.2 301.8Z" fill="#ff00ff" stroke="#600060" stroke-width="0.8"/><path d="M117.0 300.5L119.1 298.4L121.2 300.5L119.1 302.6Z" fill="#ff00ff" stroke="#600060" stroke-width="0.8"/><path d="M118.3 301.4L120.4 299.3L122.5 301.4L120.4 303.5Z" fill="#ff00ff" stroke="#600060" stroke-width="0.8"/><path d="M119.8 302.0L121.9 299.9L124.0 302.0L121.9 304.1Z" fill="#ff00ff" stroke="#600060" stroke-width="0.8"/><path d="M121.4 302.6L123.5 300.5L125.6 302.6L123.5 304.7Z" fill="#ff00ff" stroke="#600060" stroke-width="0.8"/><path d="M123.1 303.0L125.2 300.9L127.3 303.0L125.2 305.1Z" fill="#ff00ff" stroke="#600060" stroke-width="0.8"/><path d="M124.0 297.5L126.1 295.4L128.2 297.5L126.1 299.6Z" fill="#ff00ff" stroke="#600060" stroke-width="0.8"/><path d="M125.9 298.2L128.0 296.1L130.1 298.2L128.0 300.3Z" fill="#ff00ff" stroke="#600060" stroke-width="0.8"/><path d="M127.8 298.2L129.9 296.1L132.0 298.2L129.9 300.3Z" fill="#ff00ff" stroke="#600060" stroke-width="0.8"/><path d="M129.7 297.9L131.8 295.8L133.9 297.9L131.8 300.0Z" fill="#ff00ff" stroke="#600060" stroke-width="0.8"/><path d="M130.7 297.2L132.8 295.1L134.9 297.2L132.8 299.3Z" fill="#ff00ff" stroke="#600060" stroke-width="0.8"/><path d="M132.3 293.3L134.4 291.2L136.5 293.3L134.4 295.4Z" fill="#ff00ff" stroke="#600060" stroke-width="0.8"/><path d="M138.6 296.3L140.7 294.2L142.8 296.3L140.7 298.4Z" fill="#ff00ff" stroke="#600060" stroke-width="0.8"/><path d="M142.4 292.8L144.5 290.7L146.6 292.8L144.5 294.9Z" fill="#ff00ff" stroke="#600060" stroke-width="0.8"/><path d="M144.4 292.5L146.5 290.4L148.6 292.5L146.5 294.6Z" fill="#ff00ff" stroke="#600060" stroke-width="0.8"/><path d="M146.3 291.8L148.4 289.7L150.5 291.8L148.4 293.9Z" fill="#ff00ff" stroke="#600060" stroke-width="0.8"/><path d="M151.4 289.0L153.5 286.9L155.6 289.0L153.5 291.1Z" fill="#ff00ff" stroke="#600060" stroke-width="0.8"/><path d="M154.5 288.3L156.6 286.2L158.7 288.3L156.6 290.4Z" fill="#ff00ff" stroke="#600060" stroke-width="0.8"/><path d="M158.4 286.5L160.5 284.4L162.6 286.5L160.5 288.6Z" fill="#ff00ff" stroke="#600060" stroke-width="0.8"/><path d="M162.2 285.5L164.3 283.4L166.4 285.5L164.3 287.6Z" fill="#ff00ff" stroke="#600060" stroke-width="0.8"/><path d="M161.7 284.2L163.8 282.1L165.9 284.2L163.8 286.3Z" fill="#ff00ff" stroke="#600060" stroke-width="0.8"/><path d="M171.9 281.0L174.0 278.9L176.1 281.0L174.0 283.1Z" fill="#ff00ff" stroke="#600060" stroke-width="0.8"/><path d="M180.2 278.5L182.3 276.4L184.4 278.5L182.3 280.6Z" fill="#ff00ff" stroke="#600060" stroke-width="0.8"/><path d="M181.4 277.2L183.5 275.1L185.6 277.2L183.5 279.3Z" fill="#ff00ff" stroke="#600060" stroke-width="0.8"/><path d="M184.0 275.3L186.1 273.2L188.2 275.3L186.1 277.4Z" fill="#ff00ff" stroke="#600060" stroke-width="0.8"/><path d="M185.3 272.7L187.4 270.6L189.5 272.7L187.4 274.8Z" fill="#ff00ff" stroke="#600060" stroke-width="0.8"/><path d="M187.8 274.0L189.9 271.9L192.0 274.0L189.9 276.1Z" fill="#ff00ff" stroke="#600060" stroke-width="0.8"/><path d="M192.9 270.2L195.0 268.1L197.1 270.2L195.0 272.3Z" fill="#ff00ff" stroke="#600060" stroke-width="0.8"/><path d="M194.8 273.1L196.9 271.0L199.0 273.1L196.9 275.2Z" fill="#ff00ff" stroke="#600060" stroke-width="0.8"/><path d="M197.4 267.6L199.5 265.5L201.6 267.6L199.5 269.7Z" fill="#ff00ff" stroke="#600060" stroke-width="0.8"/><path d="M200.5 270.2L202.6 268.1L204.7 270.2L202.6 272.3Z" fill="#ff00ff" stroke="#600060" stroke-width="0.8"/><path d="M203.7 265.7L205.8 263.6L207.9 265.7L205.8 267.8Z" fill="#ff00ff" stroke="#600060" stroke-width="0.8"/><path d="M206.9 267.6L209.0 265.5L211.1 267.6L209.0 269.7Z" fill="#ff00ff" stroke="#600060" stroke-width="0.8"/><path d="M208.8 267.6L210.9 265.5L213.0 267.6L210.9 269.7Z" fill="#ff00ff" stroke="#600060" stroke-width="0.8"/><path d="M210.1 263.8L212.2 261.7L214.3 263.8L212.2 265.9Z" fill="#ff00ff" stroke="#600060" stroke-width="0.8"/><path d="M211.4 261.9L213.5 259.8L215.6 261.9L213.5 264.0Z" fill="#ff00ff" stroke="#600060" stroke-width="0.8"/><path d="M213.9 262.5L216.0 260.4L218.1 262.5L216.0 264.6Z" fill="#ff00ff" stroke="#600060" stroke-width="0.8"/><path d="M215.8 263.8L217.9 261.7L220.0 263.8L217.9 265.9Z" fill="#ff00ff" stroke="#600060" stroke-width="0.8"/><path d="M217.1 258.3L219.2 256.2L221.3 258.3L219.2 260.4Z" fill="#ff00ff" stroke="#600060" stroke-width="0.8"/><path d="M219.0 259.4L221.1 257.3L223.2 259.4L221.1 261.5Z" fill="#ff00ff" stroke="#600060" stroke-width="0.8"/><path d="M217.1 256.2L219.2 254.1L221.3 256.2L219.2 258.3Z" fill="#ff00ff" stroke="#600060" stroke-width="0.8"/><path d="M220.3 255.9L222.4 253.8L224.5 255.9L222.4 258.0Z" fill="#ff00ff" stroke="#600060" stroke-width="0.8"/><path d="M222.2 256.8L224.3 254.7L226.4 256.8L224.3 258.9Z" fill="#ff00ff" stroke="#600060" stroke-width="0.8"/><path d="M224.1 255.5L226.2 253.4L228.3 255.5L226.2 257.6Z" fill="#ff00ff" stroke="#600060" stroke-width="0.8"/><path d="M227.3 253.6L229.4 251.5L231.5 253.6L229.4 255.7Z" fill="#ff00ff" stroke="#600060" stroke-width="0.8"/><path d="M229.3 251.6L231.4 249.5L233.5 251.6L231.4 253.7Z" fill="#ff00ff" stroke="#600060" stroke-width="0.8"/><path d="M231.8 249.1L233.9 247.0L236.0 249.1L233.9 251.2Z" fill="#ff00ff" stroke="#600060" stroke-width="0.8"/><path d="M234.4 248.5L236.5 246.4L238.6 248.5L236.5 250.6Z" fill="#ff00ff" stroke="#600060" stroke-width="0.8"/><path d="M236.3 251.0L238.4 248.9L240.5 251.0L238.4 253.1Z" fill="#ff00ff" stroke="#600060" stroke-width="0.8"/><path d="M238.8 245.9L240.9 243.8L243.0 245.9L240.9 248.0Z" fill="#ff00ff" stroke="#600060" stroke-width="0.8"/><path d="M242.0 244.6L244.1 242.5L246.2 244.6L244.1 246.7Z" fill="#ff00ff" stroke="#600060" stroke-width="0.8"/><path d="M246.4 243.4L248.5 241.3L250.6 243.4L248.5 245.5Z" fill="#ff00ff" stroke="#600060" stroke-width="0.8"/><path d="M254.7 242.1L256.8 240.0L258.9 242.1L256.8 244.2Z" fill="#ff00ff" stroke="#600060" stroke-width="0.8"/><path d="M264.9 232.5L267.0 230.4L269.1 232.5L267.0 234.6Z" fill="#ff00ff" stroke="#600060" stroke-width="0.8"/><path d="M266.8 234.5L268.9 232.4L271.0 234.5L268.9 236.6Z" fill="#ff00ff" stroke="#600060" stroke-width="0.8"/><path d="M275.7 231.3L277.8 229.2L279.9 231.3L277.8 233.4Z" fill="#ff00ff" stroke="#600060" stroke-width="0.8"/><path d="M278.9 229.6L281.0 227.5L283.1 229.6L281.0 231.7Z" fill="#ff00ff" stroke="#600060" stroke-width="0.8"/><path d="M281.4 229.4L283.5 227.3L285.6 229.4L283.5 231.5Z" fill="#ff00ff" stroke="#600060" stroke-width="0.8"/><path d="M284.6 228.7L286.7 226.6L288.8 228.7L286.7 230.8Z" fill="#ff00ff" stroke="#600060" stroke-width="0.8"/><path d="M287.2 228.7L289.3 226.6L291.4 228.7L289.3 230.8Z" fill="#ff00ff" stroke="#600060" stroke-width="0.8"/><path d="M289.1 228.3L291.2 226.2L293.3 228.3L291.2 230.4Z" fill="#ff00ff" stroke="#600060" stroke-width="0.8"/><path d="M292.3 222.4L294.4 220.3L296.5 222.4L294.4 224.5Z" fill="#ff00ff" stroke="#600060" stroke-width="0.8"/><path d="M293.1 222.9L295.2 220.8L297.3 222.9L295.2 225.0Z" fill="#ff00ff" stroke="#600060" stroke-width="0.8"/><path d="M297.0 222.9L299.1 220.8L301.2 222.9L299.1 225.0Z" fill="#ff00ff" stroke="#600060" stroke-width="0.8"/><path d="M300.1 222.9L302.2 220.8L304.3 222.9L302.2 225.0Z" fill="#ff00ff" stroke="#600060" stroke-width="0.8"/><path d="M306.1 221.3L308.2 219.2L310.3 221.3L308.2 223.4Z" fill="#ff00ff" stroke="#600060" stroke-width="0.8"/><path d="M308.7 219.0L310.8 216.9L312.9 219.0L310.8 221.1Z" fill="#ff00ff" stroke="#600060" stroke-width="0.8"/></g>
<g><rect x="135.2" y="294.2" width="4.2" height="4.2" fill="#00eaea" stroke="#005058" stroke-width="0.8"/><rect x="135.4" y="288.2" width="4.2" height="4.2" fill="#00eaea" stroke="#005058" stroke-width="0.8"/><rect x="137.4" y="287.8" width="4.2" height="4.2" fill="#00eaea" stroke="#005058" stroke-width="0.8"/><rect x="139.3" y="287.4" width="4.2" height="4.2" fill="#00eaea" stroke="#005058" stroke-width="0.8"/><rect x="141.2" y="287.2" width="4.2" height="4.2" fill="#00eaea" stroke="#005058" stroke-width="0.8"/><rect x="143.1" y="287.2" width="4.2" height="4.2" fill="#00eaea" stroke="#005058" stroke-width="0.8"/><rect x="145.0" y="286.9" width="4.2" height="4.2" fill="#00eaea" stroke="#005058" stroke-width="0.8"/><rect x="146.9" y="286.5" width="4.2" height="4.2" fill="#00eaea" stroke="#005058" stroke-width="0.8"/><rect x="148.8" y="285.3" width="4.2" height="4.2" fill="#00eaea" stroke="#005058" stroke-width="0.8"/><rect x="150.7" y="284.6" width="4.2" height="4.2" fill="#00eaea" stroke="#005058" stroke-width="0.8"/><rect x="153.3" y="284.0" width="4.2" height="4.2" fill="#00eaea" stroke="#005058" stroke-width="0.8"/><rect x="155.2" y="282.7" width="4.2" height="4.2" fill="#00eaea" stroke="#005058" stroke-width="0.8"/><rect x="136.1" y="285.3" width="4.2" height="4.2" fill="#00eaea" stroke="#005058" stroke-width="0.8"/><rect x="138.6" y="284.6" width="4.2" height="4.2" fill="#00eaea" stroke="#005058" stroke-width="0.8"/><rect x="141.2" y="284.0" width="4.2" height="4.2" fill="#00eaea" stroke="#005058" stroke-width="0.8"/><rect x="143.7" y="283.4" width="4.2" height="4.2" fill="#00eaea" stroke="#005058" stroke-width="0.8"/><rect x="146.3" y="282.7" width="4.2" height="4.2" fill="#00eaea" stroke="#005058" stroke-width="0.8"/><rect x="148.8" y="281.8" width="4.2" height="4.2" fill="#00eaea" stroke="#005058" stroke-width="0.8"/><rect x="151.4" y="281.1" width="4.2" height="4.2" fill="#00eaea" stroke="#005058" stroke-width="0.8"/><rect x="153.9" y="280.2" width="4.2" height="4.2" fill="#00eaea" stroke="#005058" stroke-width="0.8"/><rect x="155.8" y="278.9" width="4.2" height="4.2" fill="#00eaea" stroke="#005058" stroke-width="0.8"/><rect x="157.7" y="278.3" width="4.2" height="4.2" fill="#00eaea" stroke="#005058" stroke-width="0.8"/><rect x="159.6" y="277.6" width="4.2" height="4.2" fill="#00eaea" stroke="#005058" stroke-width="0.8"/><rect x="161.5" y="277.0" width="4.2" height="4.2" fill="#00eaea" stroke="#005058" stroke-width="0.8"/><rect x="164.1" y="277.0" width="4.2" height="4.2" fill="#00eaea" stroke="#005058" stroke-width="0.8"/><rect x="159.0" y="273.2" width="4.2" height="4.2" fill="#00eaea" stroke="#005058" stroke-width="0.8"/><rect x="164.1" y="274.4" width="4.2" height="4.2" fill="#00eaea" stroke="#005058" stroke-width="0.8"/><rect x="166.6" y="271.3" width="4.2" height="4.2" fill="#00eaea" stroke="#005058" stroke-width="0.8"/><rect x="134.5" y="246.8" width="4.2" height="4.2" fill="#00eaea" stroke="#005058" stroke-width="0.8"/><rect x="168.1" y="273.8" width="4.2" height="4.2" fill="#00eaea" stroke="#005058" stroke-width="0.8"/><rect x="170.6" y="276.4" width="4.2" height="4.2" fill="#00eaea" stroke="#005058" stroke-width="0.8"/><rect x="171.9" y="273.2" width="4.2" height="4.2" fill="#00eaea" stroke="#005058" stroke-width="0.8"/><rect x="174.4" y="271.9" width="4.2" height="4.2" fill="#00eaea" stroke="#005058" stroke-width="0.8"/><rect x="176.4" y="272.5" width="4.2" height="4.2" fill="#00eaea" stroke="#005058" stroke-width="0.8"/><rect x="178.3" y="268.7" width="4.2" height="4.2" fill="#00eaea" stroke="#005058" stroke-width="0.8"/><rect x="180.8" y="268.1" width="4.2" height="4.2" fill="#00eaea" stroke="#005058" stroke-width="0.8"/><rect x="183.4" y="265.5" width="4.2" height="4.2" fill="#00eaea" stroke="#005058" stroke-width="0.8"/><rect x="185.9" y="266.8" width="4.2" height="4.2" fill="#00eaea" stroke="#005058" stroke-width="0.8"/><rect x="189.7" y="267.2" width="4.2" height="4.2" fill="#00eaea" stroke="#005058" stroke-width="0.8"/><rect x="192.9" y="261.7" width="4.2" height="4.2" fill="#00eaea" stroke="#005058" stroke-width="0.8"/><rect x="197.4" y="256.2" width="4.2" height="4.2" fill="#00eaea" stroke="#005058" stroke-width="0.8"/><rect x="203.1" y="259.2" width="4.2" height="4.2" fill="#00eaea" stroke="#005058" stroke-width="0.8"/><rect x="210.5" y="252.8" width="4.2" height="4.2" fill="#00eaea" stroke="#005058" stroke-width="0.8"/><rect x="214.5" y="249.0" width="4.2" height="4.2" fill="#00eaea" stroke="#005058" stroke-width="0.8"/><rect x="212.6" y="245.8" width="4.2" height="4.2" fill="#00eaea" stroke="#005058" stroke-width="0.8"/><rect x="217.1" y="243.3" width="4.2" height="4.2" fill="#00eaea" stroke="#005058" stroke-width="0.8"/><rect x="218.4" y="246.4" width="4.2" height="4.2" fill="#00eaea" stroke="#005058" stroke-width="0.8"/><rect x="220.9" y="245.8" width="4.2" height="4.2" fill="#00eaea" stroke="#005058" stroke-width="0.8"/><rect x="224.1" y="245.2" width="4.2" height="4.2" fill="#00eaea" stroke="#005058" stroke-width="0.8"/><rect x="227.3" y="242.0" width="4.2" height="4.2" fill="#00eaea" stroke="#005058" stroke-width="0.8"/><rect x="231.2" y="237.4" width="4.2" height="4.2" fill="#00eaea" stroke="#005058" stroke-width="0.8"/><rect x="235.0" y="240.6" width="4.2" height="4.2" fill="#00eaea" stroke="#005058" stroke-width="0.8"/><rect x="239.1" y="240.2" width="4.2" height="4.2" fill="#00eaea" stroke="#005058" stroke-width="0.8"/><rect x="243.6" y="238.5" width="4.2" height="4.2" fill="#00eaea" stroke="#005058" stroke-width="0.8"/><rect x="250.0" y="236.2" width="4.2" height="4.2" fill="#00eaea" stroke="#005058" stroke-width="0.8"/><rect x="256.2" y="229.2" width="4.2" height="4.2" fill="#00eaea" stroke="#005058" stroke-width="0.8"/><rect x="269.4" y="224.7" width="4.2" height="4.2" fill="#00eaea" stroke="#005058" stroke-width="0.8"/><rect x="271.9" y="225.4" width="4.2" height="4.2" fill="#00eaea" stroke="#005058" stroke-width="0.8"/><rect x="276.4" y="224.7" width="4.2" height="4.2" fill="#00eaea" stroke="#005058" stroke-width="0.8"/><rect x="278.9" y="224.1" width="4.2" height="4.2" fill="#00eaea" stroke="#005058" stroke-width="0.8"/><rect x="281.4" y="223.7" width="4.2" height="4.2" fill="#00eaea" stroke="#005058" stroke-width="0.8"/><rect x="284.6" y="223.2" width="4.2" height="4.2" fill="#00eaea" stroke="#005058" stroke-width="0.8"/><rect x="286.5" y="219.0" width="4.2" height="4.2" fill="#00eaea" stroke="#005058" stroke-width="0.8"/><rect x="288.1" y="222.8" width="4.2" height="4.2" fill="#00eaea" stroke="#005058" stroke-width="0.8"/></g>
<g><rect x="208.7" y="277.1" width="4.5" height="4.5" fill="#ffc000" stroke="#704000" stroke-width="0.8"/><rect x="217.8" y="266.0" width="4.5" height="4.5" fill="#ffc000" stroke="#704000" stroke-width="0.8"/><rect x="220.1" y="261.3" width="4.5" height="4.5" fill="#ffc000" stroke="#704000" stroke-width="0.8"/><rect x="234.2" y="251.9" width="4.5" height="4.5" fill="#ffc000" stroke="#704000" stroke-width="0.8"/><rect x="243.1" y="248.4" width="4.5" height="4.5" fill="#ffc000" stroke="#704000" stroke-width="0.8"/><rect x="245.4" y="245.2" width="4.5" height="4.5" fill="#ffc000" stroke="#704000" stroke-width="0.8"/><rect x="250.5" y="241.8" width="4.5" height="4.5" fill="#ffc000" stroke="#704000" stroke-width="0.8"/><rect x="254.6" y="237.3" width="4.5" height="4.5" fill="#ffc000" stroke="#704000" stroke-width="0.8"/><rect x="259.0" y="234.1" width="4.5" height="4.5" fill="#ffc000" stroke="#704000" stroke-width="0.8"/><rect x="261.8" y="231.3" width="4.5" height="4.5" fill="#ffc000" stroke="#704000" stroke-width="0.8"/><rect x="267.9" y="227.1" width="4.5" height="4.5" fill="#ffc000" stroke="#704000" stroke-width="0.8"/><rect x="273.0" y="225.2" width="4.5" height="4.5" fill="#ffc000" stroke="#704000" stroke-width="0.8"/><rect x="275.3" y="221.0" width="4.5" height="4.5" fill="#ffc000" stroke="#704000" stroke-width="0.8"/><rect x="279.6" y="216.9" width="4.5" height="4.5" fill="#ffc000" stroke="#704000" stroke-width="0.8"/><rect x="284.5" y="212.9" width="4.5" height="4.5" fill="#ffc000" stroke="#704000" stroke-width="0.8"/><rect x="281.9" y="206.4" width="4.5" height="4.5" fill="#ffc000" stroke="#704000" stroke-width="0.8"/><rect x="298.2" y="201.2" width="4.5" height="4.5" fill="#ffc000" stroke="#704000" stroke-width="0.8"/><rect x="293.5" y="194.8" width="4.5" height="4.5" fill="#ffc000" stroke="#704000" stroke-width="0.8"/><rect x="302.0" y="187.5" width="4.5" height="4.5" fill="#ffc000" stroke="#704000" stroke-width="0.8"/><rect x="307.0" y="184.1" width="4.5" height="4.5" fill="#ffc000" stroke="#704000" stroke-width="0.8"/><rect x="311.6" y="177.7" width="4.5" height="4.5" fill="#ffc000" stroke="#704000" stroke-width="0.8"/><rect x="318.6" y="171.2" width="4.5" height="4.5" fill="#ffc000" stroke="#704000" stroke-width="0.8"/></g>
<g><rect x="248.0" y="297.7" width="4.3" height="4.3" fill="#a8ee6a" stroke="#4e7026" stroke-width="0.8"/><rect x="249.6" y="287.6" width="4.3" height="4.3" fill="#a8ee6a" stroke="#4e7026" stroke-width="0.8"/><rect x="254.4" y="287.3" width="4.3" height="4.3" fill="#a8ee6a" stroke="#4e7026" stroke-width="0.8"/><rect x="255.0" y="273.3" width="4.3" height="4.3" fill="#a8ee6a" stroke="#4e7026" stroke-width="0.8"/><rect x="258.2" y="271.4" width="4.3" height="4.3" fill="#a8ee6a" stroke="#4e7026" stroke-width="0.8"/><rect x="261.4" y="269.5" width="4.3" height="4.3" fill="#a8ee6a" stroke="#4e7026" stroke-width="0.8"/><rect x="264.6" y="267.6" width="4.3" height="4.3" fill="#a8ee6a" stroke="#4e7026" stroke-width="0.8"/><rect x="267.8" y="266.3" width="4.3" height="4.3" fill="#a8ee6a" stroke="#4e7026" stroke-width="0.8"/><rect x="270.9" y="265.0" width="4.3" height="4.3" fill="#a8ee6a" stroke="#4e7026" stroke-width="0.8"/><rect x="274.1" y="263.8" width="4.3" height="4.3" fill="#a8ee6a" stroke="#4e7026" stroke-width="0.8"/><rect x="277.3" y="263.1" width="4.3" height="4.3" fill="#a8ee6a" stroke="#4e7026" stroke-width="0.8"/><rect x="280.5" y="262.5" width="4.3" height="4.3" fill="#a8ee6a" stroke="#4e7026" stroke-width="0.8"/><rect x="283.7" y="261.6" width="4.3" height="4.3" fill="#a8ee6a" stroke="#4e7026" stroke-width="0.8"/><rect x="286.9" y="260.6" width="4.3" height="4.3" fill="#a8ee6a" stroke="#4e7026" stroke-width="0.8"/><rect x="290.0" y="259.9" width="4.3" height="4.3" fill="#a8ee6a" stroke="#4e7026" stroke-width="0.8"/><rect x="293.9" y="259.6" width="4.3" height="4.3" fill="#a8ee6a" stroke="#4e7026" stroke-width="0.8"/><rect x="297.7" y="258.7" width="4.3" height="4.3" fill="#a8ee6a" stroke="#4e7026" stroke-width="0.8"/><rect x="301.5" y="257.8" width="4.3" height="4.3" fill="#a8ee6a" stroke="#4e7026" stroke-width="0.8"/><rect x="304.7" y="256.8" width="4.3" height="4.3" fill="#a8ee6a" stroke="#4e7026" stroke-width="0.8"/><rect x="307.4" y="255.7" width="4.3" height="4.3" fill="#a8ee6a" stroke="#4e7026" stroke-width="0.8"/><rect x="310.6" y="255.0" width="4.3" height="4.3" fill="#a8ee6a" stroke="#4e7026" stroke-width="0.8"/><rect x="314.4" y="254.4" width="4.3" height="4.3" fill="#a8ee6a" stroke="#4e7026" stroke-width="0.8"/><rect x="318.2" y="253.4" width="4.3" height="4.3" fill="#a8ee6a" stroke="#4e7026" stroke-width="0.8"/><rect x="322.0" y="252.5" width="4.3" height="4.3" fill="#a8ee6a" stroke="#4e7026" stroke-width="0.8"/><rect x="326.5" y="251.2" width="4.3" height="4.3" fill="#a8ee6a" stroke="#4e7026" stroke-width="0.8"/><rect x="330.3" y="249.9" width="4.3" height="4.3" fill="#a8ee6a" stroke="#4e7026" stroke-width="0.8"/><rect x="334.1" y="248.7" width="4.3" height="4.3" fill="#a8ee6a" stroke="#4e7026" stroke-width="0.8"/><rect x="337.9" y="247.8" width="4.3" height="4.3" fill="#a8ee6a" stroke="#4e7026" stroke-width="0.8"/><rect x="341.8" y="246.8" width="4.3" height="4.3" fill="#a8ee6a" stroke="#4e7026" stroke-width="0.8"/><rect x="345.6" y="245.5" width="4.3" height="4.3" fill="#a8ee6a" stroke="#4e7026" stroke-width="0.8"/><rect x="348.8" y="244.2" width="4.3" height="4.3" fill="#a8ee6a" stroke="#4e7026" stroke-width="0.8"/><rect x="352.6" y="242.9" width="4.3" height="4.3" fill="#a8ee6a" stroke="#4e7026" stroke-width="0.8"/><rect x="356.4" y="241.0" width="4.3" height="4.3" fill="#a8ee6a" stroke="#4e7026" stroke-width="0.8"/><rect x="360.2" y="239.8" width="4.3" height="4.3" fill="#a8ee6a" stroke="#4e7026" stroke-width="0.8"/><rect x="364.0" y="238.9" width="4.3" height="4.3" fill="#a8ee6a" stroke="#4e7026" stroke-width="0.8"/><rect x="365.4" y="237.7" width="4.3" height="4.3" fill="#a8ee6a" stroke="#4e7026" stroke-width="0.8"/><rect x="369.2" y="236.0" width="4.3" height="4.3" fill="#a8ee6a" stroke="#4e7026" stroke-width="0.8"/><rect x="373.0" y="234.2" width="4.3" height="4.3" fill="#a8ee6a" stroke="#4e7026" stroke-width="0.8"/><rect x="376.9" y="232.6" width="4.3" height="4.3" fill="#a8ee6a" stroke="#4e7026" stroke-width="0.8"/><rect x="380.7" y="231.7" width="4.3" height="4.3" fill="#a8ee6a" stroke="#4e7026" stroke-width="0.8"/><rect x="384.5" y="230.0" width="4.3" height="4.3" fill="#a8ee6a" stroke="#4e7026" stroke-width="0.8"/><rect x="388.3" y="228.8" width="4.3" height="4.3" fill="#a8ee6a" stroke="#4e7026" stroke-width="0.8"/><rect x="392.1" y="227.9" width="4.3" height="4.3" fill="#a8ee6a" stroke="#4e7026" stroke-width="0.8"/><rect x="395.9" y="226.6" width="4.3" height="4.3" fill="#a8ee6a" stroke="#4e7026" stroke-width="0.8"/><rect x="399.8" y="225.6" width="4.3" height="4.3" fill="#a8ee6a" stroke="#4e7026" stroke-width="0.8"/><rect x="403.6" y="224.3" width="4.3" height="4.3" fill="#a8ee6a" stroke="#4e7026" stroke-width="0.8"/><rect x="407.4" y="222.8" width="4.3" height="4.3" fill="#a8ee6a" stroke="#4e7026" stroke-width="0.8"/><rect x="411.2" y="221.5" width="4.3" height="4.3" fill="#a8ee6a" stroke="#4e7026" stroke-width="0.8"/><rect x="415.0" y="220.2" width="4.3" height="4.3" fill="#a8ee6a" stroke="#4e7026" stroke-width="0.8"/><rect x="418.9" y="219.0" width="4.3" height="4.3" fill="#a8ee6a" stroke="#4e7026" stroke-width="0.8"/><rect x="422.7" y="217.3" width="4.3" height="4.3" fill="#a8ee6a" stroke="#4e7026" stroke-width="0.8"/><rect x="427.8" y="215.1" width="4.3" height="4.3" fill="#a8ee6a" stroke="#4e7026" stroke-width="0.8"/><rect x="432.2" y="213.5" width="4.3" height="4.3" fill="#a8ee6a" stroke="#4e7026" stroke-width="0.8"/><rect x="437.0" y="210.0" width="4.3" height="4.3" fill="#a8ee6a" stroke="#4e7026" stroke-width="0.8"/><rect x="441.9" y="208.2" width="4.3" height="4.3" fill="#a8ee6a" stroke="#4e7026" stroke-width="0.8"/><rect x="446.2" y="207.2" width="4.3" height="4.3" fill="#a8ee6a" stroke="#4e7026" stroke-width="0.8"/><rect x="452.6" y="206.8" width="4.3" height="4.3" fill="#a8ee6a" stroke="#4e7026" stroke-width="0.8"/><rect x="458.9" y="206.2" width="4.3" height="4.3" fill="#a8ee6a" stroke="#4e7026" stroke-width="0.8"/><rect x="467.3" y="205.7" width="4.3" height="4.3" fill="#a8ee6a" stroke="#4e7026" stroke-width="0.8"/><rect x="475.0" y="204.7" width="4.3" height="4.3" fill="#a8ee6a" stroke="#4e7026" stroke-width="0.8"/></g>
<g><rect x="285.7" y="296.3" width="4.1" height="4.1" fill="#f46a20" stroke="#602400" stroke-width="0.8"/><rect x="285.3" y="291.9" width="4.1" height="4.1" fill="#f46a20" stroke="#602400" stroke-width="0.8"/><rect x="285.3" y="289.3" width="4.1" height="4.1" fill="#f46a20" stroke="#602400" stroke-width="0.8"/><rect x="285.3" y="286.8" width="4.1" height="4.1" fill="#f46a20" stroke="#602400" stroke-width="0.8"/><rect x="285.0" y="284.2" width="4.1" height="4.1" fill="#f46a20" stroke="#602400" stroke-width="0.8"/><rect x="284.9" y="281.7" width="4.1" height="4.1" fill="#f46a20" stroke="#602400" stroke-width="0.8"/><rect x="284.8" y="279.8" width="4.1" height="4.1" fill="#f46a20" stroke="#602400" stroke-width="0.8"/><rect x="284.8" y="277.9" width="4.1" height="4.1" fill="#f46a20" stroke="#602400" stroke-width="0.8"/><rect x="284.8" y="275.9" width="4.1" height="4.1" fill="#f46a20" stroke="#602400" stroke-width="0.8"/><rect x="284.9" y="274.0" width="4.1" height="4.1" fill="#f46a20" stroke="#602400" stroke-width="0.8"/><rect x="285.2" y="272.1" width="4.1" height="4.1" fill="#f46a20" stroke="#602400" stroke-width="0.8"/><rect x="285.7" y="270.2" width="4.1" height="4.1" fill="#f46a20" stroke="#602400" stroke-width="0.8"/><rect x="288.9" y="268.1" width="4.1" height="4.1" fill="#f46a20" stroke="#602400" stroke-width="0.8"/><rect x="293.3" y="267.3" width="4.1" height="4.1" fill="#f46a20" stroke="#602400" stroke-width="0.8"/><rect x="299.0" y="265.1" width="4.1" height="4.1" fill="#f46a20" stroke="#602400" stroke-width="0.8"/><rect x="302.2" y="264.5" width="4.1" height="4.1" fill="#f46a20" stroke="#602400" stroke-width="0.8"/><rect x="305.4" y="263.5" width="4.1" height="4.1" fill="#f46a20" stroke="#602400" stroke-width="0.8"/><rect x="305.3" y="263.1" width="4.1" height="4.1" fill="#f46a20" stroke="#602400" stroke-width="0.8"/><rect x="309.7" y="261.5" width="4.1" height="4.1" fill="#f46a20" stroke="#602400" stroke-width="0.8"/><rect x="313.9" y="259.8" width="4.1" height="4.1" fill="#f46a20" stroke="#602400" stroke-width="0.8"/><rect x="320.2" y="257.7" width="4.1" height="4.1" fill="#f46a20" stroke="#602400" stroke-width="0.8"/><rect x="325.3" y="256.7" width="4.1" height="4.1" fill="#f46a20" stroke="#602400" stroke-width="0.8"/><rect x="329.5" y="256.0" width="4.1" height="4.1" fill="#f46a20" stroke="#602400" stroke-width="0.8"/><rect x="399.9" y="230.4" width="4.1" height="4.1" fill="#f46a20" stroke="#602400" stroke-width="0.8"/><rect x="406.2" y="228.0" width="4.1" height="4.1" fill="#f46a20" stroke="#602400" stroke-width="0.8"/><rect x="411.9" y="225.7" width="4.1" height="4.1" fill="#f46a20" stroke="#602400" stroke-width="0.8"/><rect x="418.9" y="224.1" width="4.1" height="4.1" fill="#f46a20" stroke="#602400" stroke-width="0.8"/><rect x="423.4" y="222.6" width="4.1" height="4.1" fill="#f46a20" stroke="#602400" stroke-width="0.8"/><rect x="427.9" y="222.1" width="4.1" height="4.1" fill="#f46a20" stroke="#602400" stroke-width="0.8"/><rect x="432.3" y="221.2" width="4.1" height="4.1" fill="#f46a20" stroke="#602400" stroke-width="0.8"/><rect x="419.3" y="223.2" width="4.1" height="4.1" fill="#f46a20" stroke="#602400" stroke-width="0.8"/><rect x="427.6" y="221.9" width="4.1" height="4.1" fill="#f46a20" stroke="#602400" stroke-width="0.8"/><rect x="432.7" y="221.3" width="4.1" height="4.1" fill="#f46a20" stroke="#602400" stroke-width="0.8"/><rect x="436.5" y="220.3" width="4.1" height="4.1" fill="#f46a20" stroke="#602400" stroke-width="0.8"/><rect x="436.5" y="216.2" width="4.1" height="4.1" fill="#f46a20" stroke="#602400" stroke-width="0.8"/></g>
<g><circle cx="335.4" cy="252.3" r="2.15" fill="#f46a20" stroke="#602400" stroke-width="0.8"/><circle cx="338.8" cy="250.8" r="2.15" fill="#f46a20" stroke="#602400" stroke-width="0.8"/><circle cx="342.6" cy="250.2" r="2.15" fill="#f46a20" stroke="#602400" stroke-width="0.8"/><circle cx="346.5" cy="249.2" r="2.15" fill="#f46a20" stroke="#602400" stroke-width="0.8"/><circle cx="350.9" cy="248.7" r="2.15" fill="#f46a20" stroke="#602400" stroke-width="0.8"/><circle cx="353.5" cy="248.3" r="2.15" fill="#f46a20" stroke="#602400" stroke-width="0.8"/><circle cx="356.6" cy="247.6" r="2.15" fill="#f46a20" stroke="#602400" stroke-width="0.8"/><circle cx="359.8" cy="247.0" r="2.15" fill="#f46a20" stroke="#602400" stroke-width="0.8"/><circle cx="363.0" cy="246.1" r="2.15" fill="#f46a20" stroke="#602400" stroke-width="0.8"/><circle cx="366.2" cy="245.7" r="2.15" fill="#f46a20" stroke="#602400" stroke-width="0.8"/><circle cx="369.4" cy="245.1" r="2.15" fill="#f46a20" stroke="#602400" stroke-width="0.8"/><circle cx="371.4" cy="242.5" r="2.15" fill="#f46a20" stroke="#602400" stroke-width="0.8"/><circle cx="372.6" cy="241.7" r="2.15" fill="#f46a20" stroke="#602400" stroke-width="0.8"/><circle cx="374.5" cy="240.8" r="2.15" fill="#f46a20" stroke="#602400" stroke-width="0.8"/><circle cx="376.5" cy="240.1" r="2.15" fill="#f46a20" stroke="#602400" stroke-width="0.8"/><circle cx="378.4" cy="239.2" r="2.15" fill="#f46a20" stroke="#602400" stroke-width="0.8"/><circle cx="380.3" cy="238.5" r="2.15" fill="#f46a20" stroke="#602400" stroke-width="0.8"/><circle cx="382.2" cy="237.7" r="2.15" fill="#f46a20" stroke="#602400" stroke-width="0.8"/><circle cx="384.1" cy="236.9" r="2.15" fill="#f46a20" stroke="#602400" stroke-width="0.8"/><circle cx="386.0" cy="236.3" r="2.15" fill="#f46a20" stroke="#602400" stroke-width="0.8"/><circle cx="387.9" cy="235.4" r="2.15" fill="#f46a20" stroke="#602400" stroke-width="0.8"/><circle cx="389.8" cy="234.7" r="2.15" fill="#f46a20" stroke="#602400" stroke-width="0.8"/><circle cx="391.7" cy="234.1" r="2.15" fill="#f46a20" stroke="#602400" stroke-width="0.8"/><circle cx="393.6" cy="233.7" r="2.15" fill="#f46a20" stroke="#602400" stroke-width="0.8"/><circle cx="396.2" cy="233.2" r="2.15" fill="#f46a20" stroke="#602400" stroke-width="0.8"/><circle cx="398.7" cy="232.3" r="2.15" fill="#f46a20" stroke="#602400" stroke-width="0.8"/><circle cx="401.9" cy="231.3" r="2.15" fill="#f46a20" stroke="#602400" stroke-width="0.8"/><circle cx="405.1" cy="230.3" r="2.15" fill="#f46a20" stroke="#602400" stroke-width="0.8"/><circle cx="408.3" cy="229.0" r="2.15" fill="#f46a20" stroke="#602400" stroke-width="0.8"/><circle cx="412.1" cy="227.7" r="2.15" fill="#f46a20" stroke="#602400" stroke-width="0.8"/><circle cx="414.6" cy="226.7" r="2.15" fill="#f46a20" stroke="#602400" stroke-width="0.8"/><circle cx="417.2" cy="225.8" r="2.15" fill="#f46a20" stroke="#602400" stroke-width="0.8"/><circle cx="419.1" cy="225.2" r="2.15" fill="#f46a20" stroke="#602400" stroke-width="0.8"/><circle cx="421.6" cy="224.9" r="2.15" fill="#f46a20" stroke="#602400" stroke-width="0.8"/><circle cx="424.8" cy="223.3" r="2.15" fill="#f46a20" stroke="#602400" stroke-width="0.8"/><circle cx="428.0" cy="222.0" r="2.15" fill="#f46a20" stroke="#602400" stroke-width="0.8"/><circle cx="431.2" cy="220.7" r="2.15" fill="#f46a20" stroke="#602400" stroke-width="0.8"/><circle cx="430.9" cy="220.8" r="2.15" fill="#f46a20" stroke="#602400" stroke-width="0.8"/><circle cx="438.5" cy="218.3" r="2.15" fill="#f46a20" stroke="#602400" stroke-width="0.8"/><circle cx="446.6" cy="215.5" r="2.15" fill="#f46a20" stroke="#602400" stroke-width="0.8"/><circle cx="450.4" cy="215.0" r="2.15" fill="#f46a20" stroke="#602400" stroke-width="0.8"/><circle cx="456.1" cy="213.6" r="2.15" fill="#f46a20" stroke="#602400" stroke-width="0.8"/><circle cx="338.5" cy="250.2" r="2.15" fill="#f46a20" stroke="#602400" stroke-width="0.8"/><circle cx="342.4" cy="249.6" r="2.15" fill="#f46a20" stroke="#602400" stroke-width="0.8"/><circle cx="346.2" cy="249.1" r="2.15" fill="#f46a20" stroke="#602400" stroke-width="0.8"/><circle cx="350.5" cy="248.0" r="2.15" fill="#f46a20" stroke="#602400" stroke-width="0.8"/><circle cx="352.7" cy="246.9" r="2.15" fill="#f46a20" stroke="#602400" stroke-width="0.8"/><circle cx="354.9" cy="247.5" r="2.15" fill="#f46a20" stroke="#602400" stroke-width="0.8"/><circle cx="357.1" cy="246.4" r="2.15" fill="#f46a20" stroke="#602400" stroke-width="0.8"/><circle cx="359.3" cy="246.9" r="2.15" fill="#f46a20" stroke="#602400" stroke-width="0.8"/><circle cx="360.9" cy="245.3" r="2.15" fill="#f46a20" stroke="#602400" stroke-width="0.8"/><circle cx="363.1" cy="246.4" r="2.15" fill="#f46a20" stroke="#602400" stroke-width="0.8"/><circle cx="364.2" cy="244.2" r="2.15" fill="#f46a20" stroke="#602400" stroke-width="0.8"/><circle cx="365.8" cy="245.3" r="2.15" fill="#f46a20" stroke="#602400" stroke-width="0.8"/><circle cx="368.0" cy="243.6" r="2.15" fill="#f46a20" stroke="#602400" stroke-width="0.8"/><circle cx="369.6" cy="244.7" r="2.15" fill="#f46a20" stroke="#602400" stroke-width="0.8"/><circle cx="370.7" cy="241.5" r="2.15" fill="#f46a20" stroke="#602400" stroke-width="0.8"/><circle cx="372.4" cy="242.5" r="2.15" fill="#f46a20" stroke="#602400" stroke-width="0.8"/><circle cx="374.0" cy="240.4" r="2.15" fill="#f46a20" stroke="#602400" stroke-width="0.8"/><circle cx="376.2" cy="240.4" r="2.15" fill="#f46a20" stroke="#602400" stroke-width="0.8"/><circle cx="377.8" cy="239.3" r="2.15" fill="#f46a20" stroke="#602400" stroke-width="0.8"/><circle cx="379.5" cy="238.2" r="2.15" fill="#f46a20" stroke="#602400" stroke-width="0.8"/><circle cx="377.3" cy="241.4" r="2.15" fill="#f46a20" stroke="#602400" stroke-width="0.8"/><circle cx="379.2" cy="240.5" r="2.15" fill="#f46a20" stroke="#602400" stroke-width="0.8"/><circle cx="381.1" cy="239.8" r="2.15" fill="#f46a20" stroke="#602400" stroke-width="0.8"/><circle cx="383.0" cy="239.0" r="2.15" fill="#f46a20" stroke="#602400" stroke-width="0.8"/><circle cx="384.9" cy="238.2" r="2.15" fill="#f46a20" stroke="#602400" stroke-width="0.8"/><circle cx="386.8" cy="237.6" r="2.15" fill="#f46a20" stroke="#602400" stroke-width="0.8"/><circle cx="388.7" cy="236.7" r="2.15" fill="#f46a20" stroke="#602400" stroke-width="0.8"/><circle cx="390.6" cy="236.0" r="2.15" fill="#f46a20" stroke="#602400" stroke-width="0.8"/><circle cx="392.5" cy="235.4" r="2.15" fill="#f46a20" stroke="#602400" stroke-width="0.8"/><circle cx="394.4" cy="235.0" r="2.15" fill="#f46a20" stroke="#602400" stroke-width="0.8"/><circle cx="397.0" cy="234.5" r="2.15" fill="#f46a20" stroke="#602400" stroke-width="0.8"/><circle cx="399.5" cy="233.6" r="2.15" fill="#f46a20" stroke="#602400" stroke-width="0.8"/><circle cx="377.0" cy="241.7" r="2.15" fill="#f46a20" stroke="#602400" stroke-width="0.8"/><circle cx="378.6" cy="240.6" r="2.15" fill="#f46a20" stroke="#602400" stroke-width="0.8"/><circle cx="380.3" cy="239.5" r="2.15" fill="#f46a20" stroke="#602400" stroke-width="0.8"/></g>
<g><path d="M246.4 283.1L248.3 281.2L250.1 283.1L248.3 284.9Z" fill="#f46a20" stroke="#602400" stroke-width="0.8"/><path d="M248.3 281.8L250.2 280.0L252.0 281.8L250.2 283.7Z" fill="#f46a20" stroke="#602400" stroke-width="0.8"/><path d="M250.9 280.5L252.7 278.7L254.6 280.5L252.7 282.4Z" fill="#f46a20" stroke="#602400" stroke-width="0.8"/><path d="M253.4 279.5L255.3 277.7L257.1 279.5L255.3 281.4Z" fill="#f46a20" stroke="#602400" stroke-width="0.8"/><path d="M256.6 278.3L258.5 276.4L260.3 278.3L258.5 280.1Z" fill="#f46a20" stroke="#602400" stroke-width="0.8"/><path d="M259.8 277.0L261.6 275.1L263.5 277.0L261.6 278.8Z" fill="#f46a20" stroke="#602400" stroke-width="0.8"/><path d="M263.0 275.5L264.8 273.6L266.7 275.5L264.8 277.3Z" fill="#f46a20" stroke="#602400" stroke-width="0.8"/><path d="M266.1 273.9L268.0 272.1L269.9 273.9L268.0 275.8Z" fill="#f46a20" stroke="#602400" stroke-width="0.8"/><path d="M269.3 272.7L271.2 270.8L273.0 272.7L271.2 274.5Z" fill="#f46a20" stroke="#602400" stroke-width="0.8"/><path d="M272.5 271.4L274.4 269.5L276.2 271.4L274.4 273.2Z" fill="#f46a20" stroke="#602400" stroke-width="0.8"/><path d="M275.7 270.1L277.5 268.3L279.4 270.1L277.5 272.0Z" fill="#f46a20" stroke="#602400" stroke-width="0.8"/><path d="M278.9 268.8L280.7 267.0L282.6 268.8L280.7 270.7Z" fill="#f46a20" stroke="#602400" stroke-width="0.8"/><path d="M282.1 267.8L283.9 266.0L285.8 267.8L283.9 269.7Z" fill="#f46a20" stroke="#602400" stroke-width="0.8"/><path d="M284.0 267.2L285.8 265.3L287.7 267.2L285.8 269.0Z" fill="#f46a20" stroke="#602400" stroke-width="0.8"/><path d="M285.9 266.3L287.7 264.4L289.6 266.3L287.7 268.1Z" fill="#f46a20" stroke="#602400" stroke-width="0.8"/><path d="M288.4 265.9L290.3 264.1L292.1 265.9L290.3 267.8Z" fill="#f46a20" stroke="#602400" stroke-width="0.8"/><path d="M291.0 265.3L292.8 263.4L294.7 265.3L292.8 267.1Z" fill="#f46a20" stroke="#602400" stroke-width="0.8"/><path d="M294.1 264.6L296.0 262.8L297.9 264.6L296.0 266.5Z" fill="#f46a20" stroke="#602400" stroke-width="0.8"/><path d="M297.3 263.4L299.2 261.5L301.0 263.4L299.2 265.2Z" fill="#f46a20" stroke="#602400" stroke-width="0.8"/><path d="M300.5 262.7L302.4 260.9L304.2 262.7L302.4 264.6Z" fill="#f46a20" stroke="#602400" stroke-width="0.8"/><path d="M304.3 261.2L306.2 259.3L308.0 261.2L306.2 263.1Z" fill="#f46a20" stroke="#602400" stroke-width="0.8"/><path d="M307.5 260.2L309.4 258.3L311.2 260.2L309.4 262.0Z" fill="#f46a20" stroke="#602400" stroke-width="0.8"/><path d="M310.9 259.7L312.7 257.9L314.6 259.7L312.7 261.6Z" fill="#f46a20" stroke="#602400" stroke-width="0.8"/></g>
<g><circle cx="219.9" cy="289.4" r="2.25" fill="#ffc000" stroke="#704000" stroke-width="0.8"/><circle cx="225.9" cy="283.7" r="2.25" fill="#ffc000" stroke="#704000" stroke-width="0.8"/><circle cx="233.6" cy="280.3" r="2.25" fill="#ffc000" stroke="#704000" stroke-width="0.8"/><circle cx="241.4" cy="278.3" r="2.25" fill="#ffc000" stroke="#704000" stroke-width="0.8"/><circle cx="241.5" cy="278.0" r="2.25" fill="#ffc000" stroke="#704000" stroke-width="0.8"/><circle cx="252.7" cy="274.4" r="2.25" fill="#ffc000" stroke="#704000" stroke-width="0.8"/><circle cx="264.2" cy="271.9" r="2.25" fill="#ffc000" stroke="#704000" stroke-width="0.8"/><circle cx="273.7" cy="268.5" r="2.25" fill="#ffc000" stroke="#704000" stroke-width="0.8"/><circle cx="287.7" cy="264.0" r="2.25" fill="#ffc000" stroke="#704000" stroke-width="0.8"/><circle cx="293.5" cy="262.1" r="2.25" fill="#ffc000" stroke="#704000" stroke-width="0.8"/><circle cx="306.8" cy="257.9" r="2.25" fill="#ffc000" stroke="#704000" stroke-width="0.8"/><circle cx="314.4" cy="254.3" r="2.25" fill="#ffc000" stroke="#704000" stroke-width="0.8"/><circle cx="326.1" cy="251.7" r="2.25" fill="#ffc000" stroke="#704000" stroke-width="0.8"/><circle cx="336.0" cy="248.3" r="2.25" fill="#ffc000" stroke="#704000" stroke-width="0.8"/><circle cx="339.5" cy="245.1" r="2.25" fill="#ffc000" stroke="#704000" stroke-width="0.8"/><circle cx="352.8" cy="241.9" r="2.25" fill="#ffc000" stroke="#704000" stroke-width="0.8"/><circle cx="365.0" cy="238.2" r="2.25" fill="#ffc000" stroke="#704000" stroke-width="0.8"/><circle cx="372.4" cy="235.1" r="2.25" fill="#ffc000" stroke="#704000" stroke-width="0.8"/><circle cx="380.0" cy="231.8" r="2.25" fill="#ffc000" stroke="#704000" stroke-width="0.8"/><circle cx="389.6" cy="228.7" r="2.25" fill="#ffc000" stroke="#704000" stroke-width="0.8"/><circle cx="397.2" cy="226.7" r="2.25" fill="#ffc000" stroke="#704000" stroke-width="0.8"/><circle cx="402.9" cy="223.3" r="2.25" fill="#ffc000" stroke="#704000" stroke-width="0.8"/><circle cx="408.9" cy="220.3" r="2.25" fill="#ffc000" stroke="#704000" stroke-width="0.8"/><circle cx="416.5" cy="216.9" r="2.25" fill="#ffc000" stroke="#704000" stroke-width="0.8"/><circle cx="423.9" cy="213.2" r="2.25" fill="#ffc000" stroke="#704000" stroke-width="0.8"/><circle cx="428.0" cy="209.6" r="2.25" fill="#ffc000" stroke="#704000" stroke-width="0.8"/><circle cx="435.4" cy="208.3" r="2.25" fill="#ffc000" stroke="#704000" stroke-width="0.8"/><circle cx="439.4" cy="204.5" r="2.25" fill="#ffc000" stroke="#704000" stroke-width="0.8"/><circle cx="443.3" cy="201.1" r="2.25" fill="#ffc000" stroke="#704000" stroke-width="0.8"/><circle cx="449.1" cy="198.2" r="2.25" fill="#ffc000" stroke="#704000" stroke-width="0.8"/><circle cx="452.9" cy="195.0" r="2.25" fill="#ffc000" stroke="#704000" stroke-width="0.8"/><circle cx="457.0" cy="191.9" r="2.25" fill="#ffc000" stroke="#704000" stroke-width="0.8"/><circle cx="459.2" cy="187.5" r="2.25" fill="#ffc000" stroke="#704000" stroke-width="0.8"/></g>
<g font-family="Liberation Sans, Arial, sans-serif" fill="#000" stroke="#000" stroke-width="0.25">
<path d="M117.7 9.5L121.8 5.4L125.9 9.5L121.8 13.6Z" fill="#ff00ff" stroke="#5a005a" stroke-width="1.1"/>
<text x="127.2" y="12.8" font-size="10.4" textLength="62.2" lengthAdjust="spacingAndGlyphs" >PC specimen</text>
<rect x="118.8" y="21.4" width="6.0" height="6.0" fill="#00f0f0" stroke="#005f6a" stroke-width="1.1"/>
<text x="127.2" y="27.5" font-size="10.4" textLength="60.5" lengthAdjust="spacingAndGlyphs" >LC specimen</text>
<rect x="118.8" y="38.5" width="6.0" height="6.0" fill="#76a83c" stroke="#2e4616" stroke-width="1.1"/>
<text x="127.2" y="43.1" font-size="10.4" textLength="199.7" lengthAdjust="spacingAndGlyphs" >Composition A, coarse grained at 650 °C</text>
<path d="M117.4 54.9L121.6 50.7L125.8 54.9L121.6 59.1Z" fill="#76a83c" stroke="#2e4616" stroke-width="1.1"/>
<text x="127.2" y="58.2" font-size="10.4" textLength="199.7" lengthAdjust="spacingAndGlyphs" >Composition A, coarse grained at 725 °C</text>
<circle cx="121.5" cy="67.9" r="3.15" fill="#76a83c" stroke="#33558a" stroke-width="1.1"/>
<text x="127.2" y="71.0" font-size="10.4" textLength="185.2" lengthAdjust="spacingAndGlyphs" >Composition A, fine grained at 650 °C</text>
<path d="M118.0 83.5L121.7 77.1L125.4 83.5Z" fill="#76a83c" stroke="#33558a" stroke-width="1.1"/>
<text x="127.2" y="84.1" font-size="10.4" textLength="185.2" lengthAdjust="spacingAndGlyphs" >Composition A, fine grained at 725 °C</text>
<rect x="118.8" y="91.3" width="6.0" height="6.0" fill="#00ee00" stroke="#004800" stroke-width="1.1"/>
<text x="127.2" y="96.5" font-size="10.4" textLength="71.2" lengthAdjust="spacingAndGlyphs" >Composition B</text>
<rect x="118.8" y="103.0" width="6.0" height="6.0" fill="#a4f2cc" stroke="#2c5040" stroke-width="1.1"/>
<text x="127.2" y="109.2" font-size="10.4" textLength="71.2" lengthAdjust="spacingAndGlyphs" >Composition C</text>
<rect x="118.8" y="117.6" width="6.0" height="6.0" fill="#b4f264" stroke="#3a5418" stroke-width="1.1"/>
<text x="127.2" y="123.8" font-size="10.4" textLength="72.0" lengthAdjust="spacingAndGlyphs" >Composition D</text>
<rect x="222.2" y="6.4" width="6.0" height="6.0" fill="#ffc000" stroke="#7a4a00" stroke-width="1.1"/>
<text x="233.0" y="12.8" font-size="10.4" textLength="215.9" lengthAdjust="spacingAndGlyphs" >Composition E, non optimal heat treatment</text>
<circle cx="225.6" cy="22.8" r="3.10" fill="#ffc000" stroke="#7a4a00" stroke-width="1.1"/>
<text x="234.1" y="27.0" font-size="10.4" textLength="193.7" lengthAdjust="spacingAndGlyphs" >Composition E, optimal heat treatment</text>
<rect x="230.2" y="98.2" width="5.6" height="5.6" fill="#f47b20" stroke="#6a3000" stroke-width="1.1"/>
<text x="239.8" y="103.7" font-size="10.4" textLength="110.8" lengthAdjust="spacingAndGlyphs" >Composition F, 2-15Hz</text>
<circle cx="233.2" cy="111.9" r="3.00" fill="#f47b20" stroke="#6a3000" stroke-width="1.1"/>
<text x="239.8" y="115.3" font-size="10.4" textLength="119.2" lengthAdjust="spacingAndGlyphs" >Composition F, 0.5-10Hz</text>
<path d="M229.0 122.8L233.1 118.7L237.2 122.8L233.1 126.9Z" fill="#f47b20" stroke="#6a3000" stroke-width="1.1"/>
<text x="239.8" y="126.9" font-size="10.4" textLength="110.8" lengthAdjust="spacingAndGlyphs" >Composition F, 3-20Hz</text>
<text x="38.6" y="161.4" font-size="13.8" textLength="14.6" lengthAdjust="spacingAndGlyphs">10</text>
<text x="54.3" y="157.3" font-size="8.6" textLength="12.6" lengthAdjust="spacingAndGlyphs" stroke-width="0.35">-01</text>
<text x="38.6" y="191.9" font-size="13.8" textLength="14.6" lengthAdjust="spacingAndGlyphs">10</text>
<text x="54.3" y="187.8" font-size="8.6" textLength="12.6" lengthAdjust="spacingAndGlyphs" stroke-width="0.35">-02</text>
<text x="38.6" y="222.4" font-size="13.8" textLength="14.6" lengthAdjust="spacingAndGlyphs">10</text>
<text x="54.3" y="218.3" font-size="8.6" textLength="12.6" lengthAdjust="spacingAndGlyphs" stroke-width="0.35">-03</text>
<text x="38.6" y="252.8" font-size="13.8" textLength="14.6" lengthAdjust="spacingAndGlyphs">10</text>
<text x="54.3" y="248.7" font-size="8.6" textLength="12.6" lengthAdjust="spacingAndGlyphs" stroke-width="0.35">-04</text>
<text x="38.6" y="283.3" font-size="13.8" textLength="14.6" lengthAdjust="spacingAndGlyphs">10</text>
<text x="54.3" y="279.2" font-size="8.6" textLength="12.6" lengthAdjust="spacingAndGlyphs" stroke-width="0.35">-05</text>
<text x="38.6" y="313.8" font-size="13.8" textLength="14.6" lengthAdjust="spacingAndGlyphs">10</text>
<text x="54.3" y="309.7" font-size="8.6" textLength="12.6" lengthAdjust="spacingAndGlyphs" stroke-width="0.35">-06</text>
<text x="38.6" y="344.3" font-size="13.8" textLength="14.6" lengthAdjust="spacingAndGlyphs">10</text>
<text x="54.3" y="340.2" font-size="8.6" textLength="12.6" lengthAdjust="spacingAndGlyphs" stroke-width="0.35">-07</text>
<text x="38.6" y="374.8" font-size="13.8" textLength="14.6" lengthAdjust="spacingAndGlyphs">10</text>
<text x="54.3" y="370.7" font-size="8.6" textLength="12.6" lengthAdjust="spacingAndGlyphs" stroke-width="0.35">-08</text>
<text x="38.6" y="405.2" font-size="13.8" textLength="14.6" lengthAdjust="spacingAndGlyphs">10</text>
<text x="54.3" y="401.1" font-size="8.6" textLength="12.6" lengthAdjust="spacingAndGlyphs" stroke-width="0.35">-09</text>
<text x="38.6" y="435.7" font-size="13.8" textLength="14.6" lengthAdjust="spacingAndGlyphs">10</text>
<text x="54.3" y="431.6" font-size="8.6" textLength="12.6" lengthAdjust="spacingAndGlyphs" stroke-width="0.35">-10</text>
<text x="38.6" y="466.2" font-size="13.8" textLength="14.6" lengthAdjust="spacingAndGlyphs">10</text>
<text x="54.3" y="462.1" font-size="8.6" textLength="12.6" lengthAdjust="spacingAndGlyphs" stroke-width="0.35">-11</text>
<text x="70.3" y="481.0" font-size="13.8">5</text>
<text x="427.1" y="481.0" font-size="13.8" textLength="15.4" lengthAdjust="spacingAndGlyphs">50</text>
<text x="241.6" y="495.5" font-size="16" font-family="Liberation Serif, Times New Roman, serif">Δ</text>
<text x="252.6" y="495.5" font-size="16" font-style="italic" font-family="Liberation Serif, Times New Roman, serif">K</text>
<text x="267.0" y="495.5" font-size="15.2" textLength="52.8" lengthAdjust="spacingAndGlyphs">(MPa.m</text>
<text x="320.0" y="491.3" font-size="8.8" textLength="10.3" lengthAdjust="spacingAndGlyphs">0.5</text>
<text x="330.2" y="495.5" font-size="15.2">)</text>
<g transform="translate(18.9,337.3) rotate(-90)"><text x="0" y="0" font-size="14" textLength="71" lengthAdjust="spacingAndGlyphs">(mm/cycle)</text><g font-family="Liberation Serif, Times New Roman, serif" font-style="italic" font-size="12"><text x="-19" y="-7.2">da</text><rect x="-20.2" y="-2.8" width="16.6" height="0.8" fill="#000" stroke="none"/><text x="-19.6" y="10.3">dN</text></g></g>
</g>
</svg>
</body></html>
